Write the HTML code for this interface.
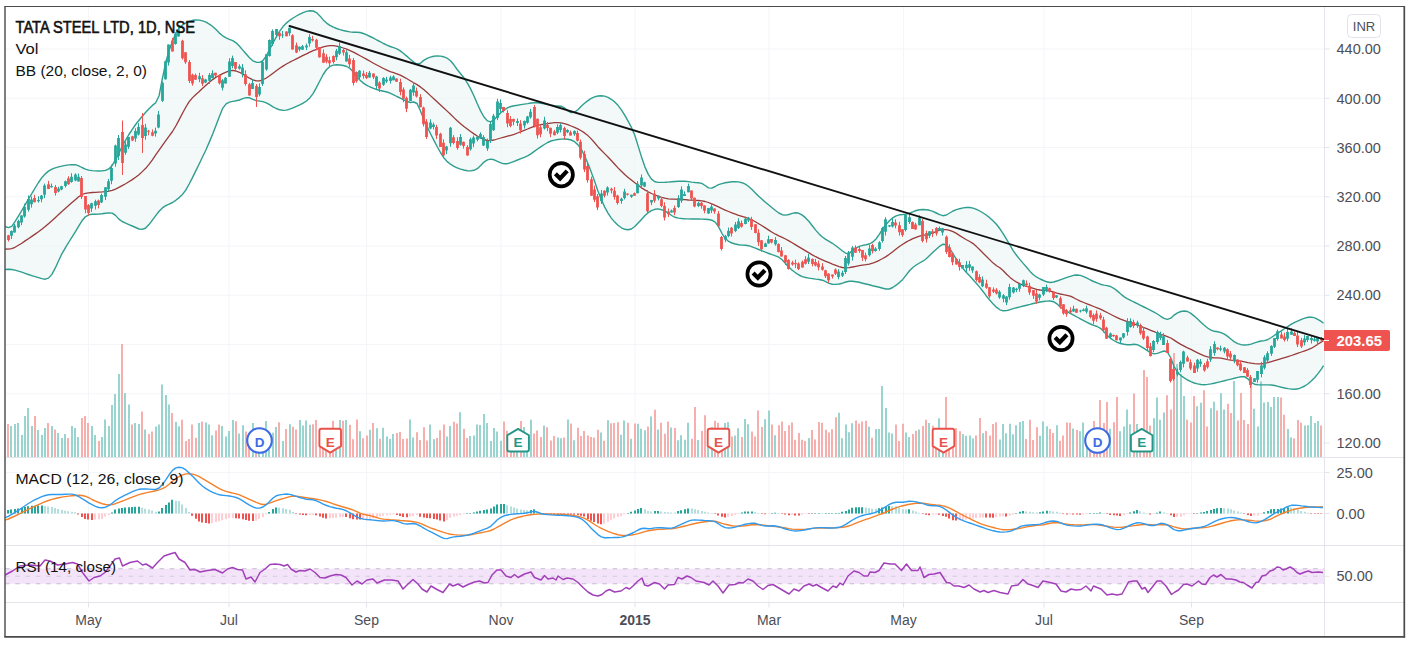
<!DOCTYPE html>
<html lang="en"><head><meta charset="utf-8"><title>TATA STEEL LTD chart</title>
<style>html,body{margin:0;padding:0;background:#fff}body{width:1408px;height:646px;overflow:hidden}svg{display:block}</style></head>
<body>
<svg width="1408" height="646" viewBox="0 0 1408 646" font-family="'Liberation Sans', Arial, sans-serif">
<rect width="1408" height="646" fill="#fff"/>
<path d="M88.5,7V602 M229,7V602 M366.5,7V602 M501,7V602 M635,7V602 M769,7V602 M903.5,7V602 M1044,7V602 M1191.5,7V602 M5,49.00H1324.5 M5,98.25H1324.5 M5,147.50H1324.5 M5,196.75H1324.5 M5,246.00H1324.5 M5,295.25H1324.5 M5,344.50H1324.5 M5,393.75H1324.5 M5,443.00H1324.5 M5,472.5H1324.5 M5,513.5H1324.5" stroke="#f4f5f9" stroke-width="1" fill="none"/>
<path d="M5.0,226.5 L8.3,227.6 L11.7,226.3 L15.0,221.7 L18.4,216.1 L21.8,210.5 L25.1,204.8 L28.4,199.2 L31.8,193.6 L35.1,188.0 L38.5,182.5 L41.8,177.7 L45.2,173.9 L48.5,171.1 L51.9,169.2 L55.2,167.9 L58.6,166.9 L61.9,166.1 L65.3,165.4 L68.6,164.9 L72.0,164.6 L75.3,164.7 L78.7,165.8 L82.0,167.5 L85.4,169.1 L88.7,170.1 L92.1,170.6 L95.4,170.9 L98.8,171.0 L102.1,170.9 L105.5,170.4 L108.8,168.9 L112.2,165.4 L115.5,159.8 L118.9,153.1 L122.2,146.3 L125.6,140.1 L128.9,134.5 L132.3,129.3 L135.6,124.5 L139.0,120.2 L142.3,116.2 L145.7,112.3 L149.0,108.7 L152.4,105.4 L155.7,102.7 L159.1,95.7 L162.4,78.5 L165.8,62.3 L169.1,50.5 L172.5,41.1 L175.8,33.6 L179.2,28.3 L182.5,24.9 L185.9,22.8 L189.2,21.3 L192.6,20.3 L195.9,20.0 L199.3,20.1 L202.6,20.9 L206.0,22.2 L209.3,24.1 L212.7,26.5 L216.0,29.6 L219.4,33.1 L222.7,35.8 L226.1,37.9 L229.4,39.4 L232.8,40.7 L236.1,42.8 L239.5,46.3 L242.8,50.1 L246.2,54.0 L249.5,57.8 L252.9,60.8 L256.2,62.2 L259.6,62.4 L262.9,60.6 L266.3,55.8 L269.6,49.5 L273.0,43.0 L276.3,36.8 L279.7,31.2 L283.0,26.6 L286.4,23.1 L289.7,20.3 L293.1,18.0 L296.4,16.0 L299.8,14.2 L303.1,12.6 L306.5,11.4 L309.8,10.7 L313.2,11.0 L316.5,12.6 L319.9,15.9 L323.2,19.9 L326.6,23.1 L329.9,25.4 L333.3,27.2 L336.6,28.5 L340.0,29.6 L343.3,30.5 L346.7,31.3 L350.0,31.9 L353.4,32.2 L356.7,32.2 L360.1,32.5 L363.4,33.5 L366.8,34.9 L370.1,36.5 L373.5,38.2 L376.8,40.0 L380.2,41.7 L383.5,43.5 L386.9,45.1 L390.2,46.5 L393.6,47.7 L396.9,48.9 L400.3,50.9 L403.6,53.5 L407.0,56.4 L410.3,59.3 L413.7,62.1 L417.0,64.0 L420.4,63.3 L423.7,60.4 L427.1,58.3 L430.4,57.1 L433.8,56.3 L437.1,55.9 L440.5,56.1 L443.8,56.8 L447.2,58.2 L450.5,60.7 L453.9,64.8 L457.2,69.5 L460.6,73.7 L463.9,77.8 L467.3,82.8 L470.6,88.9 L474.0,96.0 L477.3,103.8 L480.7,111.1 L484.0,117.0 L487.4,120.9 L490.7,121.9 L494.1,119.7 L497.4,116.3 L500.8,112.8 L504.1,109.9 L507.5,107.8 L510.8,106.5 L514.2,105.7 L517.5,105.2 L520.9,104.6 L524.2,104.1 L527.6,103.6 L530.9,103.0 L534.3,102.7 L537.6,102.7 L541.0,103.2 L544.3,103.9 L547.7,104.5 L551.0,105.2 L554.4,105.8 L557.7,106.0 L561.1,106.2 L564.4,107.9 L567.8,110.8 L571.1,112.6 L574.5,112.3 L577.8,109.7 L581.2,106.3 L584.5,103.3 L587.9,100.6 L591.2,98.4 L594.6,96.9 L597.9,96.0 L601.3,95.7 L604.6,96.1 L608.0,97.3 L611.3,99.3 L614.7,101.9 L618.0,105.3 L621.4,109.8 L624.7,115.2 L628.1,121.1 L631.4,127.4 L634.8,135.3 L638.1,145.9 L641.5,156.9 L644.8,166.6 L648.2,174.1 L651.5,179.1 L654.9,181.8 L658.2,182.4 L661.6,182.4 L664.9,182.3 L668.3,182.1 L671.6,181.8 L675.0,181.5 L678.3,181.2 L681.7,181.1 L685.0,181.2 L688.4,181.6 L691.7,182.1 L695.1,182.5 L698.4,182.8 L701.8,183.4 L705.1,185.5 L708.5,187.9 L711.8,188.1 L715.2,186.5 L718.5,184.7 L721.9,183.6 L725.2,182.8 L728.6,182.2 L731.9,181.8 L735.3,181.7 L738.6,181.9 L742.0,182.7 L745.3,184.2 L748.7,186.5 L752.0,189.6 L755.4,192.9 L758.7,196.3 L762.1,199.3 L765.4,202.2 L768.8,205.0 L772.1,207.8 L775.5,210.5 L778.8,213.0 L782.2,214.7 L785.5,215.1 L788.9,214.5 L792.2,213.4 L795.6,212.7 L798.9,213.3 L802.3,215.1 L805.6,217.9 L809.0,221.5 L812.3,225.7 L815.7,230.1 L819.0,233.9 L822.4,237.0 L825.7,239.4 L829.1,241.4 L832.4,243.3 L835.8,245.7 L839.1,248.3 L842.5,251.0 L845.8,253.3 L849.2,253.4 L852.5,250.5 L855.9,248.1 L859.2,246.4 L862.6,245.4 L865.9,244.8 L869.3,244.0 L872.6,242.2 L876.0,239.0 L879.3,234.3 L882.7,229.0 L886.0,224.5 L889.4,220.7 L892.7,217.8 L896.1,215.8 L899.4,214.8 L902.8,214.5 L906.1,214.1 L909.5,213.2 L912.8,211.8 L916.2,210.5 L919.5,209.7 L922.9,209.5 L926.2,209.7 L929.6,210.3 L932.9,211.3 L936.3,213.0 L939.6,214.7 L943.0,215.7 L946.3,215.0 L949.7,213.0 L953.0,211.0 L956.4,209.7 L959.7,208.7 L963.1,207.9 L966.4,207.5 L969.8,207.5 L973.1,208.1 L976.5,209.3 L979.8,211.0 L983.2,213.0 L986.5,215.3 L989.9,217.9 L993.2,220.9 L996.6,224.5 L999.9,228.8 L1003.3,233.8 L1006.6,239.3 L1010.0,245.1 L1013.3,250.8 L1016.7,255.5 L1020.0,259.6 L1023.4,263.6 L1026.8,267.5 L1030.1,271.4 L1033.4,274.7 L1036.8,277.2 L1040.1,279.0 L1043.5,280.5 L1046.8,281.8 L1050.2,282.5 L1053.5,282.0 L1056.9,281.0 L1060.2,279.8 L1063.6,278.6 L1066.9,277.4 L1070.3,276.3 L1073.6,275.3 L1077.0,275.0 L1080.3,275.4 L1083.7,276.6 L1087.0,278.2 L1090.4,280.0 L1093.7,281.5 L1097.1,282.9 L1100.4,284.2 L1103.8,285.1 L1107.1,285.6 L1110.5,286.5 L1113.8,288.3 L1117.2,290.9 L1120.5,293.8 L1123.9,296.6 L1127.2,298.6 L1130.6,300.3 L1133.9,302.0 L1137.3,303.6 L1140.6,305.3 L1144.0,307.0 L1147.3,308.7 L1150.7,310.3 L1154.0,312.1 L1157.4,314.0 L1160.7,316.3 L1164.1,318.3 L1167.4,319.4 L1170.8,318.2 L1174.1,315.1 L1177.5,312.8 L1180.8,311.5 L1184.2,311.0 L1187.5,311.5 L1190.9,313.4 L1194.2,316.1 L1197.6,319.1 L1200.9,322.2 L1204.3,325.3 L1207.6,328.0 L1211.0,330.1 L1214.3,331.3 L1217.7,331.7 L1221.0,332.6 L1224.4,334.2 L1227.7,336.4 L1231.1,339.2 L1234.4,341.9 L1237.8,343.7 L1241.1,344.7 L1244.5,345.0 L1247.8,344.8 L1251.2,344.1 L1254.5,342.9 L1257.9,341.8 L1261.2,341.0 L1264.6,340.6 L1267.9,339.5 L1271.3,337.5 L1274.6,335.2 L1278.0,333.0 L1281.3,330.8 L1284.7,328.5 L1288.0,326.3 L1291.4,324.2 L1294.7,322.4 L1298.1,320.8 L1301.4,319.3 L1304.8,318.1 L1308.1,317.3 L1311.5,317.1 L1314.8,317.9 L1318.2,319.6 L1321.5,321.7 L1323.5,323.2 L1323.5,365.7 L1321.5,368.8 L1318.2,373.4 L1314.8,377.5 L1311.5,380.8 L1308.1,383.7 L1304.8,386.0 L1301.4,387.7 L1298.1,388.8 L1294.7,389.2 L1291.4,389.1 L1288.0,388.6 L1284.7,388.0 L1281.3,387.3 L1278.0,386.4 L1274.6,385.5 L1271.3,385.0 L1267.9,384.9 L1264.6,384.9 L1261.2,384.9 L1257.9,384.7 L1254.5,384.2 L1251.2,382.4 L1247.8,378.8 L1244.5,376.6 L1241.1,376.7 L1237.8,377.4 L1234.4,378.3 L1231.1,379.1 L1227.7,379.9 L1224.4,380.8 L1221.0,381.6 L1217.7,382.4 L1214.3,383.2 L1211.0,383.9 L1207.6,384.4 L1204.3,384.7 L1200.9,384.5 L1197.6,383.9 L1194.2,383.0 L1190.9,381.6 L1187.5,380.0 L1184.2,377.9 L1180.8,375.5 L1177.5,372.2 L1174.1,366.6 L1170.8,358.0 L1167.4,352.0 L1164.1,351.0 L1160.7,352.2 L1157.4,353.4 L1154.0,353.9 L1150.7,352.8 L1147.3,350.6 L1144.0,348.4 L1140.6,346.3 L1137.3,344.7 L1133.9,344.3 L1130.6,344.7 L1127.2,344.8 L1123.9,344.3 L1120.5,343.5 L1117.2,342.3 L1113.8,340.5 L1110.5,338.3 L1107.1,335.4 L1103.8,331.6 L1100.4,328.3 L1097.1,326.5 L1093.7,325.4 L1090.4,324.0 L1087.0,322.3 L1083.7,320.6 L1080.3,318.8 L1077.0,317.0 L1073.6,315.1 L1070.3,313.3 L1066.9,311.4 L1063.6,309.5 L1060.2,306.9 L1056.9,303.8 L1053.5,301.7 L1050.2,301.0 L1046.8,301.1 L1043.5,301.5 L1040.1,302.0 L1036.8,302.7 L1033.4,303.5 L1030.1,304.4 L1026.8,305.2 L1023.4,306.0 L1020.0,306.9 L1016.7,307.7 L1013.3,308.7 L1010.0,309.7 L1006.6,310.6 L1003.3,310.8 L999.9,309.8 L996.6,307.4 L993.2,304.1 L989.9,300.3 L986.5,296.2 L983.2,291.7 L979.8,287.4 L976.5,283.5 L973.1,279.7 L969.8,276.1 L966.4,272.5 L963.1,268.6 L959.7,264.1 L956.4,259.3 L953.0,253.9 L949.7,248.7 L946.3,244.7 L943.0,244.2 L939.6,246.3 L936.3,249.2 L932.9,252.2 L929.6,255.4 L926.2,258.7 L922.9,261.2 L919.5,263.0 L916.2,265.0 L912.8,267.5 L909.5,270.8 L906.1,275.1 L902.8,279.4 L899.4,282.6 L896.1,285.2 L892.7,287.5 L889.4,289.0 L886.0,289.0 L882.7,288.2 L879.3,287.3 L876.0,286.5 L872.6,285.7 L869.3,284.8 L865.9,284.0 L862.6,283.2 L859.2,282.3 L855.9,281.7 L852.5,281.2 L849.2,281.2 L845.8,282.0 L842.5,283.2 L839.1,284.0 L835.8,284.4 L832.4,284.3 L829.1,283.4 L825.7,281.7 L822.4,280.2 L819.0,279.5 L815.7,279.1 L812.3,278.6 L809.0,278.1 L805.6,277.5 L802.3,276.6 L798.9,275.0 L795.6,272.8 L792.2,270.3 L788.9,267.2 L785.5,263.6 L782.2,259.8 L778.8,257.2 L775.5,255.8 L772.1,254.7 L768.8,253.5 L765.4,252.2 L762.1,250.8 L758.7,249.5 L755.4,248.2 L752.0,246.8 L748.7,245.7 L745.3,245.3 L742.0,245.1 L738.6,244.7 L735.3,244.0 L731.9,243.0 L728.6,241.4 L725.2,238.3 L721.9,233.3 L718.5,226.6 L715.2,222.2 L711.8,220.2 L708.5,219.5 L705.1,219.2 L701.8,219.1 L698.4,219.0 L695.1,219.0 L691.7,219.0 L688.4,218.9 L685.0,218.8 L681.7,218.5 L678.3,218.1 L675.0,217.3 L671.6,215.5 L668.3,213.1 L664.9,211.2 L661.6,209.7 L658.2,208.9 L654.9,209.3 L651.5,210.6 L648.2,212.7 L644.8,215.8 L641.5,219.4 L638.1,223.0 L634.8,226.5 L631.4,229.0 L628.1,229.8 L624.7,229.3 L621.4,227.8 L618.0,225.3 L614.7,222.1 L611.3,218.1 L608.0,213.1 L604.6,206.9 L601.3,199.5 L597.9,190.9 L594.6,181.3 L591.2,172.0 L587.9,163.5 L584.5,155.7 L581.2,149.1 L577.8,144.6 L574.5,141.7 L571.1,140.0 L567.8,139.3 L564.4,139.0 L561.1,139.1 L557.7,139.5 L554.4,140.1 L551.0,141.0 L547.7,142.5 L544.3,144.5 L541.0,146.7 L537.6,149.0 L534.3,151.4 L530.9,153.9 L527.6,155.8 L524.2,157.3 L520.9,158.6 L517.5,160.0 L514.2,161.3 L510.8,162.7 L507.5,163.7 L504.1,163.8 L500.8,162.8 L497.4,161.3 L494.1,159.8 L490.7,159.1 L487.4,159.9 L484.0,162.1 L480.7,165.6 L477.3,168.7 L474.0,170.3 L470.6,170.9 L467.3,170.7 L463.9,170.0 L460.6,169.1 L457.2,167.9 L453.9,166.3 L450.5,164.2 L447.2,161.6 L443.8,157.7 L440.5,152.5 L437.1,146.5 L433.8,140.1 L430.4,133.5 L427.1,126.5 L423.7,119.0 L420.4,110.7 L417.0,103.5 L413.7,102.0 L410.3,102.5 L407.0,101.5 L403.6,99.8 L400.3,98.1 L396.9,96.5 L393.6,94.8 L390.2,93.2 L386.9,92.0 L383.5,91.2 L380.2,90.5 L376.8,89.5 L373.5,88.3 L370.1,87.0 L366.8,85.3 L363.4,83.1 L360.1,80.3 L356.7,76.5 L353.4,72.0 L350.0,68.4 L346.7,66.5 L343.3,65.5 L340.0,65.0 L336.6,64.8 L333.3,65.1 L329.9,66.4 L326.6,69.5 L323.2,74.5 L319.9,80.7 L316.5,87.4 L313.2,93.3 L309.8,97.9 L306.5,101.0 L303.1,103.1 L299.8,104.8 L296.4,106.4 L293.1,107.8 L289.7,109.1 L286.4,110.1 L283.0,110.4 L279.7,109.8 L276.3,108.5 L273.0,106.8 L269.6,104.7 L266.3,102.8 L262.9,101.6 L259.6,101.1 L256.2,100.6 L252.9,99.4 L249.5,97.8 L246.2,97.6 L242.8,98.7 L239.5,100.0 L236.1,100.8 L232.8,101.4 L229.4,102.1 L226.1,103.8 L222.7,108.3 L219.4,116.4 L216.0,125.5 L212.7,134.1 L209.3,142.1 L206.0,149.7 L202.6,156.8 L199.3,163.7 L195.9,170.6 L192.6,177.4 L189.2,184.0 L185.9,189.9 L182.5,194.4 L179.2,197.6 L175.8,200.3 L172.5,202.5 L169.1,204.2 L165.8,205.7 L162.4,207.9 L159.1,211.3 L155.7,215.6 L152.4,220.1 L149.0,224.6 L145.7,228.0 L142.3,229.4 L139.0,229.0 L135.6,227.5 L132.3,226.0 L128.9,224.6 L125.6,223.2 L122.2,221.5 L118.9,219.1 L115.5,215.4 L112.2,213.1 L108.8,212.9 L105.5,213.3 L102.1,213.7 L98.8,214.0 L95.4,214.2 L92.1,214.3 L88.7,214.9 L85.4,216.8 L82.0,220.8 L78.7,226.2 L75.3,231.8 L72.0,237.2 L68.6,242.5 L65.3,247.9 L61.9,253.8 L58.6,260.8 L55.2,268.2 L51.9,274.4 L48.5,278.1 L45.2,279.2 L41.8,278.6 L38.5,277.6 L35.1,276.6 L31.8,275.6 L28.4,274.5 L25.1,273.3 L21.8,272.2 L18.4,271.1 L15.0,270.1 L11.7,269.5 L8.3,269.3 L5.0,269.5Z" fill="#eaf5f4" fill-opacity="0.6" stroke="none"/>
<path d="M10,457v-31.0h2v31.0zM14,457v-33.0h2v33.0zM17,457v-34.0h2v34.0zM21,457v-22.0h2v22.0zM24,457v-41.0h2v41.0zM27,457v-49.0h2v49.0zM31,457v-31.0h2v31.0zM37,457v-27.0h2v27.0zM41,457v-22.0h2v22.0zM44,457v-29.0h2v29.0zM51,457v-31.0h2v31.0zM57,457v-24.0h2v24.0zM61,457v-19.0h2v19.0zM64,457v-23.0h2v23.0zM71,457v-31.0h2v31.0zM74,457v-29.0h2v29.0zM77,457v-20.0h2v20.0zM91,457v-31.0h2v31.0zM94,457v-22.0h2v22.0zM101,457v-20.0h2v20.0zM104,457v-37.5h2v37.5zM108,457v-31.0h2v31.0zM111,457v-52.0h2v52.0zM114,457v-63.0h2v63.0zM118,457v-83.0h2v83.0zM124,457v-64.0h2v64.0zM128,457v-52.5h2v52.5zM134,457v-34.0h2v34.0zM138,457v-33.0h2v33.0zM144,457v-27.5h2v27.5zM155,457v-30.6h2v30.6zM158,457v-32.5h2v32.5zM161,457v-72.5h2v72.5zM165,457v-62.0h2v62.0zM168,457v-52.5h2v52.5zM175,457v-35.0h2v35.0zM178,457v-30.8h2v30.8zM198,457v-33.9h2v33.9zM205,457v-34.4h2v34.4zM208,457v-32.5h2v32.5zM211,457v-21.8h2v21.8zM221,457v-30.9h2v30.9zM225,457v-20.4h2v20.4zM228,457v-25.9h2v25.9zM232,457v-37.0h2v37.0zM238,457v-23.6h2v23.6zM242,457v-31.7h2v31.7zM252,457v-33.9h2v33.9zM258,457v-23.6h2v23.6zM262,457v-24.7h2v24.7zM265,457v-35.9h2v35.9zM268,457v-21.3h2v21.3zM272,457v-24.3h2v24.3zM275,457v-29.9h2v29.9zM282,457v-16.0h2v16.0zM289,457v-32.8h2v32.8zM299,457v-37.1h2v37.1zM302,457v-31.5h2v31.5zM305,457v-36.4h2v36.4zM309,457v-32.3h2v32.3zM335,457v-22.5h2v22.5zM339,457v-37.1h2v37.1zM345,457v-37.0h2v37.0zM359,457v-25.8h2v25.8zM369,457v-27.2h2v27.2zM376,457v-28.8h2v28.8zM382,457v-29.2h2v29.2zM386,457v-20.5h2v20.5zM389,457v-18.0h2v18.0zM392,457v-22.9h2v22.9zM409,457v-37.5h2v37.5zM412,457v-19.5h2v19.5zM429,457v-32.6h2v32.6zM433,457v-17.8h2v17.8zM446,457v-20.6h2v20.6zM449,457v-31.0h2v31.0zM459,457v-44.7h2v44.7zM469,457v-20.9h2v20.9zM473,457v-21.4h2v21.4zM476,457v-32.6h2v32.6zM479,457v-32.1h2v32.1zM483,457v-43.1h2v43.1zM486,457v-33.9h2v33.9zM490,457v-16.1h2v16.1zM493,457v-29.1h2v29.1zM496,457v-25.6h2v25.6zM500,457v-16.3h2v16.3zM516,457v-17.4h2v17.4zM523,457v-30.0h2v30.0zM526,457v-23.0h2v23.0zM530,457v-37.2h2v37.2zM543,457v-31.4h2v31.4zM557,457v-19.4h2v19.4zM560,457v-18.8h2v18.8zM567,457v-37.5h2v37.5zM573,457v-16.7h2v16.7zM600,457v-24.6h2v24.6zM607,457v-36.7h2v36.7zM620,457v-22.2h2v22.2zM623,457v-36.4h2v36.4zM630,457v-18.2h2v18.2zM637,457v-33.3h2v33.3zM640,457v-28.2h2v28.2zM644,457v-26.8h2v26.8zM650,457v-40.5h2v40.5zM657,457v-27.6h2v27.6zM670,457v-29.4h2v29.4zM677,457v-16.8h2v16.8zM680,457v-21.7h2v21.7zM684,457v-17.2h2v17.2zM687,457v-34.3h2v34.3zM697,457v-17.1h2v17.1zM707,457v-24.1h2v24.1zM711,457v-29.9h2v29.9zM724,457v-34.0h2v34.0zM727,457v-34.7h2v34.7zM734,457v-21.6h2v21.6zM737,457v-28.8h2v28.8zM744,457v-37.9h2v37.9zM747,457v-32.7h2v32.7zM764,457v-37.8h2v37.8zM768,457v-46.5h2v46.5zM774,457v-21.7h2v21.7zM808,457v-19.0h2v19.0zM838,457v-44.3h2v44.3zM841,457v-18.7h2v18.7zM845,457v-32.4h2v32.4zM848,457v-24.7h2v24.7zM851,457v-33.7h2v33.7zM868,457v-30.2h2v30.2zM875,457v-28.0h2v28.0zM878,457v-28.1h2v28.1zM881,457v-71.0h2v71.0zM885,457v-49.0h2v49.0zM888,457v-24.5h2v24.5zM891,457v-23.4h2v23.4zM905,457v-24.6h2v24.6zM908,457v-20.1h2v20.1zM918,457v-27.4h2v27.4zM928,457v-33.9h2v33.9zM938,457v-38.7h2v38.7zM942,457v-28.9h2v28.9zM962,457v-22.9h2v22.9zM965,457v-21.3h2v21.3zM969,457v-21.4h2v21.4zM972,457v-18.5h2v18.5zM982,457v-23.8h2v23.8zM999,457v-17.5h2v17.5zM1002,457v-33.0h2v33.0zM1005,457v-23.7h2v23.7zM1009,457v-33.2h2v33.2zM1012,457v-22.7h2v22.7zM1015,457v-31.8h2v31.8zM1019,457v-35.0h2v35.0zM1022,457v-36.1h2v36.1zM1039,457v-21.2h2v21.2zM1042,457v-35.5h2v35.5zM1046,457v-30.7h2v30.7zM1056,457v-31.8h2v31.8zM1072,457v-28.5h2v28.5zM1079,457v-25.8h2v25.8zM1082,457v-34.5h2v34.5zM1086,457v-23.5h2v23.5zM1109,457v-28.3h2v28.3zM1119,457v-25.7h2v25.7zM1123,457v-30.5h2v30.5zM1126,457v-47.5h2v47.5zM1129,457v-32.7h2v32.7zM1136,457v-33.1h2v33.1zM1153,457v-38.7h2v38.7zM1156,457v-59.4h2v59.4zM1159,457v-37.3h2v37.3zM1163,457v-44.6h2v44.6zM1176,457v-93.0h2v93.0zM1180,457v-83.0h2v83.0zM1183,457v-61.0h2v61.0zM1196,457v-50.8h2v50.8zM1200,457v-54.3h2v54.3zM1210,457v-48.8h2v48.8zM1213,457v-55.3h2v55.3zM1220,457v-63.7h2v63.7zM1223,457v-47.6h2v47.6zM1233,457v-76.1h2v76.1zM1253,457v-48.2h2v48.2zM1257,457v-30.6h2v30.6zM1260,457v-75.4h2v75.4zM1263,457v-54.4h2v54.4zM1267,457v-55.0h2v55.0zM1270,457v-50.0h2v50.0zM1273,457v-60.0h2v60.0zM1277,457v-60.0h2v60.0zM1287,457v-27.9h2v27.9zM1290,457v-19.6h2v19.6zM1304,457v-31.5h2v31.5zM1307,457v-31.7h2v31.7zM1310,457v-40.9h2v40.9zM1314,457v-34.1h2v34.1zM1317,457v-35.9h2v35.9z" fill="#99d4ce"/>
<path d="M7,457v-33.0h2v33.0zM34,457v-41.0h2v41.0zM47,457v-34.0h2v34.0zM54,457v-27.5h2v27.5zM67,457v-19.0h2v19.0zM81,457v-39.0h2v39.0zM84,457v-41.0h2v41.0zM87,457v-34.0h2v34.0zM98,457v-16.0h2v16.0zM121,457v-113.0h2v113.0zM131,457v-32.5h2v32.5zM141,457v-45.6h2v45.6zM148,457v-23.0h2v23.0zM151,457v-25.6h2v25.6zM171,457v-44.0h2v44.0zM181,457v-37.2h2v37.2zM185,457v-16.0h2v16.0zM188,457v-18.0h2v18.0zM191,457v-32.5h2v32.5zM195,457v-19.3h2v19.3zM201,457v-35.6h2v35.6zM215,457v-26.5h2v26.5zM218,457v-32.4h2v32.4zM235,457v-35.7h2v35.7zM245,457v-25.4h2v25.4zM248,457v-21.5h2v21.5zM255,457v-25.9h2v25.9zM278,457v-34.7h2v34.7zM285,457v-27.9h2v27.9zM292,457v-30.2h2v30.2zM295,457v-27.5h2v27.5zM312,457v-32.7h2v32.7zM315,457v-36.9h2v36.9zM319,457v-17.3h2v17.3zM322,457v-23.2h2v23.2zM325,457v-23.3h2v23.3zM329,457v-20.6h2v20.6zM332,457v-36.2h2v36.2zM342,457v-36.2h2v36.2zM349,457v-32.2h2v32.2zM352,457v-17.7h2v17.7zM356,457v-37.6h2v37.6zM362,457v-18.7h2v18.7zM366,457v-21.4h2v21.4zM372,457v-34.0h2v34.0zM379,457v-18.3h2v18.3zM396,457v-24.0h2v24.0zM399,457v-24.9h2v24.9zM402,457v-18.0h2v18.0zM406,457v-18.4h2v18.4zM416,457v-24.8h2v24.8zM419,457v-16.9h2v16.9zM423,457v-29.8h2v29.8zM426,457v-16.5h2v16.5zM436,457v-19.0h2v19.0zM439,457v-26.8h2v26.8zM443,457v-32.6h2v32.6zM453,457v-35.2h2v35.2zM456,457v-33.5h2v33.5zM463,457v-28.2h2v28.2zM466,457v-18.9h2v18.9zM503,457v-35.4h2v35.4zM506,457v-26.3h2v26.3zM510,457v-20.7h2v20.7zM513,457v-23.6h2v23.6zM520,457v-36.1h2v36.1zM533,457v-23.6h2v23.6zM536,457v-26.6h2v26.6zM540,457v-20.1h2v20.1zM546,457v-29.8h2v29.8zM550,457v-16.6h2v16.6zM553,457v-21.1h2v21.1zM563,457v-19.4h2v19.4zM570,457v-33.5h2v33.5zM577,457v-29.3h2v29.3zM580,457v-21.0h2v21.0zM583,457v-26.0h2v26.0zM587,457v-21.5h2v21.5zM590,457v-20.0h2v20.0zM593,457v-19.5h2v19.5zM597,457v-27.3h2v27.3zM603,457v-16.3h2v16.3zM610,457v-33.8h2v33.8zM613,457v-34.0h2v34.0zM617,457v-34.7h2v34.7zM627,457v-34.3h2v34.3zM634,457v-33.4h2v33.4zM647,457v-30.6h2v30.6zM654,457v-47.2h2v47.2zM660,457v-34.2h2v34.2zM664,457v-23.3h2v23.3zM667,457v-35.5h2v35.5zM674,457v-29.1h2v29.1zM691,457v-18.2h2v18.2zM694,457v-50.1h2v50.1zM701,457v-26.1h2v26.1zM704,457v-41.8h2v41.8zM714,457v-36.2h2v36.2zM717,457v-34.3h2v34.3zM721,457v-29.2h2v29.2zM731,457v-20.4h2v20.4zM741,457v-20.0h2v20.0zM751,457v-25.4h2v25.4zM754,457v-20.4h2v20.4zM757,457v-46.4h2v46.4zM761,457v-30.1h2v30.1zM771,457v-32.6h2v32.6zM778,457v-31.8h2v31.8zM781,457v-35.6h2v35.6zM784,457v-26.0h2v26.0zM788,457v-31.7h2v31.7zM791,457v-34.5h2v34.5zM794,457v-17.3h2v17.3zM798,457v-24.0h2v24.0zM801,457v-17.3h2v17.3zM804,457v-16.0h2v16.0zM811,457v-26.9h2v26.9zM814,457v-17.4h2v17.4zM818,457v-35.0h2v35.0zM821,457v-34.3h2v34.3zM825,457v-27.3h2v27.3zM828,457v-24.4h2v24.4zM831,457v-27.7h2v27.7zM835,457v-39.8h2v39.8zM855,457v-36.6h2v36.6zM858,457v-33.4h2v33.4zM861,457v-35.5h2v35.5zM865,457v-36.3h2v36.3zM871,457v-19.3h2v19.3zM895,457v-32.4h2v32.4zM898,457v-16.1h2v16.1zM902,457v-33.2h2v33.2zM912,457v-23.1h2v23.1zM915,457v-26.3h2v26.3zM922,457v-30.9h2v30.9zM925,457v-37.2h2v37.2zM932,457v-31.2h2v31.2zM935,457v-27.1h2v27.1zM945,457v-60.0h2v60.0zM948,457v-19.8h2v19.8zM952,457v-23.1h2v23.1zM955,457v-28.8h2v28.8zM959,457v-25.7h2v25.7zM975,457v-21.4h2v21.4zM979,457v-39.0h2v39.0zM985,457v-26.0h2v26.0zM989,457v-21.4h2v21.4zM992,457v-33.0h2v33.0zM995,457v-34.7h2v34.7zM1025,457v-18.0h2v18.0zM1029,457v-37.2h2v37.2zM1032,457v-17.0h2v17.0zM1036,457v-29.7h2v29.7zM1049,457v-28.1h2v28.1zM1052,457v-24.0h2v24.0zM1059,457v-16.2h2v16.2zM1062,457v-21.4h2v21.4zM1066,457v-34.6h2v34.6zM1069,457v-34.2h2v34.2zM1076,457v-26.9h2v26.9zM1089,457v-25.7h2v25.7zM1093,457v-36.0h2v36.0zM1096,457v-29.4h2v29.4zM1099,457v-56.9h2v56.9zM1103,457v-34.0h2v34.0zM1106,457v-55.1h2v55.1zM1113,457v-34.7h2v34.7zM1116,457v-59.9h2v59.9zM1133,457v-63.4h2v63.4zM1139,457v-25.9h2v25.9zM1143,457v-87.0h2v87.0zM1146,457v-80.0h2v80.0zM1149,457v-31.4h2v31.4zM1166,457v-61.8h2v61.8zM1170,457v-47.4h2v47.4zM1173,457v-104.0h2v104.0zM1186,457v-37.2h2v37.2zM1190,457v-34.4h2v34.4zM1193,457v-61.0h2v61.0zM1203,457v-66.7h2v66.7zM1206,457v-30.5h2v30.5zM1216,457v-46.4h2v46.4zM1227,457v-53.3h2v53.3zM1230,457v-44.1h2v44.1zM1237,457v-36.4h2v36.4zM1240,457v-63.9h2v63.9zM1243,457v-36.9h2v36.9zM1247,457v-33.0h2v33.0zM1250,457v-72.0h2v72.0zM1280,457v-59.4h2v59.4zM1283,457v-42.2h2v42.2zM1293,457v-18.4h2v18.4zM1297,457v-37.1h2v37.1zM1300,457v-34.2h2v34.2zM1320,457v-31.5h2v31.5z" fill="#f7afad"/>
<path d="M5.0,226.5 L8.3,227.6 L11.7,226.3 L15.0,221.7 L18.4,216.1 L21.8,210.5 L25.1,204.8 L28.4,199.2 L31.8,193.6 L35.1,188.0 L38.5,182.5 L41.8,177.7 L45.2,173.9 L48.5,171.1 L51.9,169.2 L55.2,167.9 L58.6,166.9 L61.9,166.1 L65.3,165.4 L68.6,164.9 L72.0,164.6 L75.3,164.7 L78.7,165.8 L82.0,167.5 L85.4,169.1 L88.7,170.1 L92.1,170.6 L95.4,170.9 L98.8,171.0 L102.1,170.9 L105.5,170.4 L108.8,168.9 L112.2,165.4 L115.5,159.8 L118.9,153.1 L122.2,146.3 L125.6,140.1 L128.9,134.5 L132.3,129.3 L135.6,124.5 L139.0,120.2 L142.3,116.2 L145.7,112.3 L149.0,108.7 L152.4,105.4 L155.7,102.7 L159.1,95.7 L162.4,78.5 L165.8,62.3 L169.1,50.5 L172.5,41.1 L175.8,33.6 L179.2,28.3 L182.5,24.9 L185.9,22.8 L189.2,21.3 L192.6,20.3 L195.9,20.0 L199.3,20.1 L202.6,20.9 L206.0,22.2 L209.3,24.1 L212.7,26.5 L216.0,29.6 L219.4,33.1 L222.7,35.8 L226.1,37.9 L229.4,39.4 L232.8,40.7 L236.1,42.8 L239.5,46.3 L242.8,50.1 L246.2,54.0 L249.5,57.8 L252.9,60.8 L256.2,62.2 L259.6,62.4 L262.9,60.6 L266.3,55.8 L269.6,49.5 L273.0,43.0 L276.3,36.8 L279.7,31.2 L283.0,26.6 L286.4,23.1 L289.7,20.3 L293.1,18.0 L296.4,16.0 L299.8,14.2 L303.1,12.6 L306.5,11.4 L309.8,10.7 L313.2,11.0 L316.5,12.6 L319.9,15.9 L323.2,19.9 L326.6,23.1 L329.9,25.4 L333.3,27.2 L336.6,28.5 L340.0,29.6 L343.3,30.5 L346.7,31.3 L350.0,31.9 L353.4,32.2 L356.7,32.2 L360.1,32.5 L363.4,33.5 L366.8,34.9 L370.1,36.5 L373.5,38.2 L376.8,40.0 L380.2,41.7 L383.5,43.5 L386.9,45.1 L390.2,46.5 L393.6,47.7 L396.9,48.9 L400.3,50.9 L403.6,53.5 L407.0,56.4 L410.3,59.3 L413.7,62.1 L417.0,64.0 L420.4,63.3 L423.7,60.4 L427.1,58.3 L430.4,57.1 L433.8,56.3 L437.1,55.9 L440.5,56.1 L443.8,56.8 L447.2,58.2 L450.5,60.7 L453.9,64.8 L457.2,69.5 L460.6,73.7 L463.9,77.8 L467.3,82.8 L470.6,88.9 L474.0,96.0 L477.3,103.8 L480.7,111.1 L484.0,117.0 L487.4,120.9 L490.7,121.9 L494.1,119.7 L497.4,116.3 L500.8,112.8 L504.1,109.9 L507.5,107.8 L510.8,106.5 L514.2,105.7 L517.5,105.2 L520.9,104.6 L524.2,104.1 L527.6,103.6 L530.9,103.0 L534.3,102.7 L537.6,102.7 L541.0,103.2 L544.3,103.9 L547.7,104.5 L551.0,105.2 L554.4,105.8 L557.7,106.0 L561.1,106.2 L564.4,107.9 L567.8,110.8 L571.1,112.6 L574.5,112.3 L577.8,109.7 L581.2,106.3 L584.5,103.3 L587.9,100.6 L591.2,98.4 L594.6,96.9 L597.9,96.0 L601.3,95.7 L604.6,96.1 L608.0,97.3 L611.3,99.3 L614.7,101.9 L618.0,105.3 L621.4,109.8 L624.7,115.2 L628.1,121.1 L631.4,127.4 L634.8,135.3 L638.1,145.9 L641.5,156.9 L644.8,166.6 L648.2,174.1 L651.5,179.1 L654.9,181.8 L658.2,182.4 L661.6,182.4 L664.9,182.3 L668.3,182.1 L671.6,181.8 L675.0,181.5 L678.3,181.2 L681.7,181.1 L685.0,181.2 L688.4,181.6 L691.7,182.1 L695.1,182.5 L698.4,182.8 L701.8,183.4 L705.1,185.5 L708.5,187.9 L711.8,188.1 L715.2,186.5 L718.5,184.7 L721.9,183.6 L725.2,182.8 L728.6,182.2 L731.9,181.8 L735.3,181.7 L738.6,181.9 L742.0,182.7 L745.3,184.2 L748.7,186.5 L752.0,189.6 L755.4,192.9 L758.7,196.3 L762.1,199.3 L765.4,202.2 L768.8,205.0 L772.1,207.8 L775.5,210.5 L778.8,213.0 L782.2,214.7 L785.5,215.1 L788.9,214.5 L792.2,213.4 L795.6,212.7 L798.9,213.3 L802.3,215.1 L805.6,217.9 L809.0,221.5 L812.3,225.7 L815.7,230.1 L819.0,233.9 L822.4,237.0 L825.7,239.4 L829.1,241.4 L832.4,243.3 L835.8,245.7 L839.1,248.3 L842.5,251.0 L845.8,253.3 L849.2,253.4 L852.5,250.5 L855.9,248.1 L859.2,246.4 L862.6,245.4 L865.9,244.8 L869.3,244.0 L872.6,242.2 L876.0,239.0 L879.3,234.3 L882.7,229.0 L886.0,224.5 L889.4,220.7 L892.7,217.8 L896.1,215.8 L899.4,214.8 L902.8,214.5 L906.1,214.1 L909.5,213.2 L912.8,211.8 L916.2,210.5 L919.5,209.7 L922.9,209.5 L926.2,209.7 L929.6,210.3 L932.9,211.3 L936.3,213.0 L939.6,214.7 L943.0,215.7 L946.3,215.0 L949.7,213.0 L953.0,211.0 L956.4,209.7 L959.7,208.7 L963.1,207.9 L966.4,207.5 L969.8,207.5 L973.1,208.1 L976.5,209.3 L979.8,211.0 L983.2,213.0 L986.5,215.3 L989.9,217.9 L993.2,220.9 L996.6,224.5 L999.9,228.8 L1003.3,233.8 L1006.6,239.3 L1010.0,245.1 L1013.3,250.8 L1016.7,255.5 L1020.0,259.6 L1023.4,263.6 L1026.8,267.5 L1030.1,271.4 L1033.4,274.7 L1036.8,277.2 L1040.1,279.0 L1043.5,280.5 L1046.8,281.8 L1050.2,282.5 L1053.5,282.0 L1056.9,281.0 L1060.2,279.8 L1063.6,278.6 L1066.9,277.4 L1070.3,276.3 L1073.6,275.3 L1077.0,275.0 L1080.3,275.4 L1083.7,276.6 L1087.0,278.2 L1090.4,280.0 L1093.7,281.5 L1097.1,282.9 L1100.4,284.2 L1103.8,285.1 L1107.1,285.6 L1110.5,286.5 L1113.8,288.3 L1117.2,290.9 L1120.5,293.8 L1123.9,296.6 L1127.2,298.6 L1130.6,300.3 L1133.9,302.0 L1137.3,303.6 L1140.6,305.3 L1144.0,307.0 L1147.3,308.7 L1150.7,310.3 L1154.0,312.1 L1157.4,314.0 L1160.7,316.3 L1164.1,318.3 L1167.4,319.4 L1170.8,318.2 L1174.1,315.1 L1177.5,312.8 L1180.8,311.5 L1184.2,311.0 L1187.5,311.5 L1190.9,313.4 L1194.2,316.1 L1197.6,319.1 L1200.9,322.2 L1204.3,325.3 L1207.6,328.0 L1211.0,330.1 L1214.3,331.3 L1217.7,331.7 L1221.0,332.6 L1224.4,334.2 L1227.7,336.4 L1231.1,339.2 L1234.4,341.9 L1237.8,343.7 L1241.1,344.7 L1244.5,345.0 L1247.8,344.8 L1251.2,344.1 L1254.5,342.9 L1257.9,341.8 L1261.2,341.0 L1264.6,340.6 L1267.9,339.5 L1271.3,337.5 L1274.6,335.2 L1278.0,333.0 L1281.3,330.8 L1284.7,328.5 L1288.0,326.3 L1291.4,324.2 L1294.7,322.4 L1298.1,320.8 L1301.4,319.3 L1304.8,318.1 L1308.1,317.3 L1311.5,317.1 L1314.8,317.9 L1318.2,319.6 L1321.5,321.7 L1323.5,323.2" fill="none" stroke="#2f9e8f" stroke-width="1.4" stroke-linejoin="round"/>
<path d="M5.0,269.5 L8.3,269.3 L11.7,269.5 L15.0,270.1 L18.4,271.1 L21.8,272.2 L25.1,273.3 L28.4,274.5 L31.8,275.6 L35.1,276.6 L38.5,277.6 L41.8,278.6 L45.2,279.2 L48.5,278.1 L51.9,274.4 L55.2,268.2 L58.6,260.8 L61.9,253.8 L65.3,247.9 L68.6,242.5 L72.0,237.2 L75.3,231.8 L78.7,226.2 L82.0,220.8 L85.4,216.8 L88.7,214.9 L92.1,214.3 L95.4,214.2 L98.8,214.0 L102.1,213.7 L105.5,213.3 L108.8,212.9 L112.2,213.1 L115.5,215.4 L118.9,219.1 L122.2,221.5 L125.6,223.2 L128.9,224.6 L132.3,226.0 L135.6,227.5 L139.0,229.0 L142.3,229.4 L145.7,228.0 L149.0,224.6 L152.4,220.1 L155.7,215.6 L159.1,211.3 L162.4,207.9 L165.8,205.7 L169.1,204.2 L172.5,202.5 L175.8,200.3 L179.2,197.6 L182.5,194.4 L185.9,189.9 L189.2,184.0 L192.6,177.4 L195.9,170.6 L199.3,163.7 L202.6,156.8 L206.0,149.7 L209.3,142.1 L212.7,134.1 L216.0,125.5 L219.4,116.4 L222.7,108.3 L226.1,103.8 L229.4,102.1 L232.8,101.4 L236.1,100.8 L239.5,100.0 L242.8,98.7 L246.2,97.6 L249.5,97.8 L252.9,99.4 L256.2,100.6 L259.6,101.1 L262.9,101.6 L266.3,102.8 L269.6,104.7 L273.0,106.8 L276.3,108.5 L279.7,109.8 L283.0,110.4 L286.4,110.1 L289.7,109.1 L293.1,107.8 L296.4,106.4 L299.8,104.8 L303.1,103.1 L306.5,101.0 L309.8,97.9 L313.2,93.3 L316.5,87.4 L319.9,80.7 L323.2,74.5 L326.6,69.5 L329.9,66.4 L333.3,65.1 L336.6,64.8 L340.0,65.0 L343.3,65.5 L346.7,66.5 L350.0,68.4 L353.4,72.0 L356.7,76.5 L360.1,80.3 L363.4,83.1 L366.8,85.3 L370.1,87.0 L373.5,88.3 L376.8,89.5 L380.2,90.5 L383.5,91.2 L386.9,92.0 L390.2,93.2 L393.6,94.8 L396.9,96.5 L400.3,98.1 L403.6,99.8 L407.0,101.5 L410.3,102.5 L413.7,102.0 L417.0,103.5 L420.4,110.7 L423.7,119.0 L427.1,126.5 L430.4,133.5 L433.8,140.1 L437.1,146.5 L440.5,152.5 L443.8,157.7 L447.2,161.6 L450.5,164.2 L453.9,166.3 L457.2,167.9 L460.6,169.1 L463.9,170.0 L467.3,170.7 L470.6,170.9 L474.0,170.3 L477.3,168.7 L480.7,165.6 L484.0,162.1 L487.4,159.9 L490.7,159.1 L494.1,159.8 L497.4,161.3 L500.8,162.8 L504.1,163.8 L507.5,163.7 L510.8,162.7 L514.2,161.3 L517.5,160.0 L520.9,158.6 L524.2,157.3 L527.6,155.8 L530.9,153.9 L534.3,151.4 L537.6,149.0 L541.0,146.7 L544.3,144.5 L547.7,142.5 L551.0,141.0 L554.4,140.1 L557.7,139.5 L561.1,139.1 L564.4,139.0 L567.8,139.3 L571.1,140.0 L574.5,141.7 L577.8,144.6 L581.2,149.1 L584.5,155.7 L587.9,163.5 L591.2,172.0 L594.6,181.3 L597.9,190.9 L601.3,199.5 L604.6,206.9 L608.0,213.1 L611.3,218.1 L614.7,222.1 L618.0,225.3 L621.4,227.8 L624.7,229.3 L628.1,229.8 L631.4,229.0 L634.8,226.5 L638.1,223.0 L641.5,219.4 L644.8,215.8 L648.2,212.7 L651.5,210.6 L654.9,209.3 L658.2,208.9 L661.6,209.7 L664.9,211.2 L668.3,213.1 L671.6,215.5 L675.0,217.3 L678.3,218.1 L681.7,218.5 L685.0,218.8 L688.4,218.9 L691.7,219.0 L695.1,219.0 L698.4,219.0 L701.8,219.1 L705.1,219.2 L708.5,219.5 L711.8,220.2 L715.2,222.2 L718.5,226.6 L721.9,233.3 L725.2,238.3 L728.6,241.4 L731.9,243.0 L735.3,244.0 L738.6,244.7 L742.0,245.1 L745.3,245.3 L748.7,245.7 L752.0,246.8 L755.4,248.2 L758.7,249.5 L762.1,250.8 L765.4,252.2 L768.8,253.5 L772.1,254.7 L775.5,255.8 L778.8,257.2 L782.2,259.8 L785.5,263.6 L788.9,267.2 L792.2,270.3 L795.6,272.8 L798.9,275.0 L802.3,276.6 L805.6,277.5 L809.0,278.1 L812.3,278.6 L815.7,279.1 L819.0,279.5 L822.4,280.2 L825.7,281.7 L829.1,283.4 L832.4,284.3 L835.8,284.4 L839.1,284.0 L842.5,283.2 L845.8,282.0 L849.2,281.2 L852.5,281.2 L855.9,281.7 L859.2,282.3 L862.6,283.2 L865.9,284.0 L869.3,284.8 L872.6,285.7 L876.0,286.5 L879.3,287.3 L882.7,288.2 L886.0,289.0 L889.4,289.0 L892.7,287.5 L896.1,285.2 L899.4,282.6 L902.8,279.4 L906.1,275.1 L909.5,270.8 L912.8,267.5 L916.2,265.0 L919.5,263.0 L922.9,261.2 L926.2,258.7 L929.6,255.4 L932.9,252.2 L936.3,249.2 L939.6,246.3 L943.0,244.2 L946.3,244.7 L949.7,248.7 L953.0,253.9 L956.4,259.3 L959.7,264.1 L963.1,268.6 L966.4,272.5 L969.8,276.1 L973.1,279.7 L976.5,283.5 L979.8,287.4 L983.2,291.7 L986.5,296.2 L989.9,300.3 L993.2,304.1 L996.6,307.4 L999.9,309.8 L1003.3,310.8 L1006.6,310.6 L1010.0,309.7 L1013.3,308.7 L1016.7,307.7 L1020.0,306.9 L1023.4,306.0 L1026.8,305.2 L1030.1,304.4 L1033.4,303.5 L1036.8,302.7 L1040.1,302.0 L1043.5,301.5 L1046.8,301.1 L1050.2,301.0 L1053.5,301.7 L1056.9,303.8 L1060.2,306.9 L1063.6,309.5 L1066.9,311.4 L1070.3,313.3 L1073.6,315.1 L1077.0,317.0 L1080.3,318.8 L1083.7,320.6 L1087.0,322.3 L1090.4,324.0 L1093.7,325.4 L1097.1,326.5 L1100.4,328.3 L1103.8,331.6 L1107.1,335.4 L1110.5,338.3 L1113.8,340.5 L1117.2,342.3 L1120.5,343.5 L1123.9,344.3 L1127.2,344.8 L1130.6,344.7 L1133.9,344.3 L1137.3,344.7 L1140.6,346.3 L1144.0,348.4 L1147.3,350.6 L1150.7,352.8 L1154.0,353.9 L1157.4,353.4 L1160.7,352.2 L1164.1,351.0 L1167.4,352.0 L1170.8,358.0 L1174.1,366.6 L1177.5,372.2 L1180.8,375.5 L1184.2,377.9 L1187.5,380.0 L1190.9,381.6 L1194.2,383.0 L1197.6,383.9 L1200.9,384.5 L1204.3,384.7 L1207.6,384.4 L1211.0,383.9 L1214.3,383.2 L1217.7,382.4 L1221.0,381.6 L1224.4,380.8 L1227.7,379.9 L1231.1,379.1 L1234.4,378.3 L1237.8,377.4 L1241.1,376.7 L1244.5,376.6 L1247.8,378.8 L1251.2,382.4 L1254.5,384.2 L1257.9,384.7 L1261.2,384.9 L1264.6,384.9 L1267.9,384.9 L1271.3,385.0 L1274.6,385.5 L1278.0,386.4 L1281.3,387.3 L1284.7,388.0 L1288.0,388.6 L1291.4,389.1 L1294.7,389.2 L1298.1,388.8 L1301.4,387.7 L1304.8,386.0 L1308.1,383.7 L1311.5,380.8 L1314.8,377.5 L1318.2,373.4 L1321.5,368.8 L1323.5,365.7" fill="none" stroke="#2f9e8f" stroke-width="1.4" stroke-linejoin="round"/>
<path d="M5.0,249.0 L8.3,249.1 L11.7,248.7 L15.0,247.3 L18.4,245.3 L21.8,243.2 L25.1,240.9 L28.4,238.7 L31.8,236.4 L35.1,234.1 L38.5,231.8 L41.8,229.3 L45.2,226.6 L48.5,223.7 L51.9,220.8 L55.2,217.7 L58.6,214.6 L61.9,211.5 L65.3,208.5 L68.6,205.6 L72.0,202.6 L75.3,199.7 L78.7,196.8 L82.0,194.5 L85.4,193.3 L88.7,192.8 L92.1,192.5 L95.4,192.3 L98.8,192.1 L102.1,191.9 L105.5,191.6 L108.8,191.1 L112.2,190.3 L115.5,189.1 L118.9,187.4 L122.2,185.6 L125.6,183.7 L128.9,181.7 L132.3,179.6 L135.6,177.3 L139.0,174.7 L142.3,171.6 L145.7,168.3 L149.0,164.4 L152.4,159.8 L155.7,154.9 L159.1,150.1 L162.4,145.4 L165.8,140.6 L169.1,136.1 L172.5,131.5 L175.8,126.0 L179.2,119.6 L182.5,113.2 L185.9,107.0 L189.2,101.6 L192.6,97.6 L195.9,94.5 L199.3,91.5 L202.6,88.3 L206.0,85.2 L209.3,82.3 L212.7,79.6 L216.0,77.2 L219.4,75.3 L222.7,73.7 L226.1,72.2 L229.4,70.9 L232.8,70.4 L236.1,71.0 L239.5,72.3 L242.8,74.1 L246.2,76.2 L249.5,78.2 L252.9,79.8 L256.2,80.8 L259.6,80.8 L262.9,79.8 L266.3,78.0 L269.6,75.7 L273.0,73.2 L276.3,70.7 L279.7,68.2 L283.0,66.1 L286.4,64.0 L289.7,62.2 L293.1,60.5 L296.4,58.8 L299.8,57.1 L303.1,55.4 L306.5,53.8 L309.8,52.1 L313.2,50.6 L316.5,49.3 L319.9,48.1 L323.2,46.9 L326.6,46.1 L329.9,45.6 L333.3,45.7 L336.6,46.2 L340.0,47.0 L343.3,48.0 L346.7,49.2 L350.0,50.6 L353.4,52.2 L356.7,53.9 L360.1,55.7 L363.4,57.5 L366.8,59.4 L370.1,61.3 L373.5,63.2 L376.8,65.0 L380.2,66.8 L383.5,68.5 L386.9,70.2 L390.2,71.6 L393.6,72.7 L396.9,73.8 L400.3,75.2 L403.6,76.9 L407.0,78.8 L410.3,80.7 L413.7,82.7 L417.0,84.6 L420.4,86.9 L423.7,89.6 L427.1,92.5 L430.4,95.6 L433.8,98.7 L437.1,101.8 L440.5,104.9 L443.8,107.9 L447.2,111.1 L450.5,114.3 L453.9,117.6 L457.2,120.7 L460.6,123.7 L463.9,126.4 L467.3,129.0 L470.6,131.5 L474.0,133.9 L477.3,136.0 L480.7,138.0 L484.0,139.6 L487.4,140.5 L490.7,140.7 L494.1,140.0 L497.4,139.0 L500.8,138.0 L504.1,137.1 L507.5,136.2 L510.8,135.3 L514.2,134.3 L517.5,133.0 L520.9,131.6 L524.2,130.3 L527.6,129.0 L530.9,127.6 L534.3,126.3 L537.6,125.3 L541.0,124.6 L544.3,124.1 L547.7,123.6 L551.0,123.1 L554.4,122.7 L557.7,122.6 L561.1,122.9 L564.4,123.7 L567.8,124.7 L571.1,126.0 L574.5,127.3 L577.8,128.9 L581.2,130.8 L584.5,132.9 L587.9,135.6 L591.2,138.9 L594.6,142.8 L597.9,146.7 L601.3,150.3 L604.6,153.6 L608.0,157.0 L611.3,160.5 L614.7,164.2 L618.0,167.9 L621.4,171.3 L624.7,174.5 L628.1,177.4 L631.4,180.1 L634.8,182.8 L638.1,185.3 L641.5,187.7 L644.8,189.9 L648.2,191.8 L651.5,193.5 L654.9,195.0 L658.2,196.2 L661.6,197.3 L664.9,198.2 L668.3,198.8 L671.6,199.1 L675.0,199.2 L678.3,199.3 L681.7,199.5 L685.0,199.7 L688.4,200.0 L691.7,200.2 L695.1,200.4 L698.4,200.5 L701.8,200.8 L705.1,201.5 L708.5,202.5 L711.8,203.8 L715.2,205.3 L718.5,206.9 L721.9,208.6 L725.2,210.1 L728.6,211.5 L731.9,212.8 L735.3,214.1 L738.6,215.4 L742.0,216.4 L745.3,217.4 L748.7,218.5 L752.0,220.0 L755.4,221.8 L758.7,223.7 L762.1,225.8 L765.4,227.9 L768.8,230.1 L772.1,232.2 L775.5,234.2 L778.8,235.9 L782.2,237.4 L785.5,239.0 L788.9,240.9 L792.2,242.8 L795.6,244.9 L798.9,246.9 L802.3,248.9 L805.6,250.9 L809.0,252.9 L812.3,254.9 L815.7,256.7 L819.0,258.3 L822.4,259.9 L825.7,261.3 L829.1,262.7 L832.4,264.1 L835.8,265.4 L839.1,266.6 L842.5,267.5 L845.8,267.9 L849.2,267.7 L852.5,267.0 L855.9,266.3 L859.2,265.7 L862.6,265.2 L865.9,264.7 L869.3,264.1 L872.6,263.2 L876.0,261.9 L879.3,260.3 L882.7,258.5 L886.0,256.6 L889.4,254.3 L892.7,251.8 L896.1,249.1 L899.4,246.5 L902.8,244.2 L906.1,242.1 L909.5,240.3 L912.8,238.7 L916.2,237.3 L919.5,236.2 L922.9,235.4 L926.2,234.8 L929.6,234.0 L932.9,232.9 L936.3,231.5 L939.6,230.2 L943.0,229.6 L946.3,229.7 L949.7,230.3 L953.0,231.6 L956.4,233.4 L959.7,235.6 L963.1,237.7 L966.4,239.7 L969.8,241.5 L973.1,243.6 L976.5,246.6 L979.8,249.8 L983.2,253.2 L986.5,256.5 L989.9,259.9 L993.2,263.1 L996.6,265.8 L999.9,267.8 L1003.3,270.7 L1006.6,274.2 L1010.0,277.4 L1013.3,280.0 L1016.7,282.2 L1020.0,283.9 L1023.4,285.3 L1026.8,286.5 L1030.1,287.5 L1033.4,288.4 L1036.8,289.3 L1040.1,290.0 L1043.5,290.4 L1046.8,290.6 L1050.2,291.1 L1053.5,292.0 L1056.9,293.1 L1060.2,294.0 L1063.6,294.7 L1066.9,295.3 L1070.3,296.2 L1073.6,297.7 L1077.0,299.5 L1080.3,301.1 L1083.7,302.5 L1087.0,303.8 L1090.4,305.2 L1093.7,306.5 L1097.1,307.8 L1100.4,309.2 L1103.8,310.8 L1107.1,312.5 L1110.5,314.3 L1113.8,316.0 L1117.2,317.7 L1120.5,319.2 L1123.9,320.4 L1127.2,321.6 L1130.6,322.7 L1133.9,323.9 L1137.3,325.0 L1140.6,326.3 L1144.0,327.6 L1147.3,328.9 L1150.7,330.3 L1154.0,331.6 L1157.4,333.0 L1160.7,334.3 L1164.1,335.4 L1167.4,336.6 L1170.8,338.0 L1174.1,340.1 L1177.5,342.4 L1180.8,344.4 L1184.2,346.1 L1187.5,347.8 L1190.9,349.4 L1194.2,351.1 L1197.6,352.8 L1200.9,354.4 L1204.3,355.8 L1207.6,356.9 L1211.0,357.5 L1214.3,357.8 L1217.7,357.9 L1221.0,358.2 L1224.4,358.9 L1227.7,359.6 L1231.1,360.1 L1234.4,360.4 L1237.8,360.8 L1241.1,361.2 L1244.5,361.9 L1247.8,362.6 L1251.2,363.2 L1254.5,363.7 L1257.9,363.9 L1261.2,363.8 L1264.6,363.3 L1267.9,362.6 L1271.3,361.6 L1274.6,360.6 L1278.0,359.6 L1281.3,358.6 L1284.7,357.6 L1288.0,356.6 L1291.4,355.5 L1294.7,354.4 L1298.1,353.2 L1301.4,352.0 L1304.8,350.8 L1308.1,349.6 L1311.5,348.2 L1314.8,346.3 L1318.2,344.0 L1321.5,341.9 L1323.5,340.6" fill="none" stroke="#9a3b3b" stroke-width="1.3" stroke-linejoin="round"/>
<path d="M11.5,230.4V239.0M14.5,223.9V232.6M18.5,219.7V228.3M21.5,215.1V225.2M24.5,203.6V217.7M28.5,195.4V211.6M31.5,196.5V207.6M38.5,196.3V202.6M41.5,194.9V202.3M44.5,183.6V198.1M51.5,183.6V187.6M58.5,186.7V192.3M61.5,185.8V190.3M65.5,180.5V187.5M71.5,173.2V182.8M75.5,173.3V181.3M78.5,173.5V181.6M91.5,202.7V212.0M95.5,199.7V209.5M101.5,193.5V203.1M105.5,187.3V200.1M108.5,178.9V191.1M111.5,164.6V184.2M115.5,144.6V166.7M118.5,135.0V160.0M125.5,141.8V154.8M128.5,136.9V148.9M135.5,128.3V141.8M138.5,123.2V135.5M145.5,123.9V139.7M155.5,127.6V136.6M158.5,110.9V128.3M162.5,81.7V102.1M165.5,60.9V79.6M168.5,44.6V65.6M175.5,32.3V44.7M178.5,26.3V36.6M199.5,72.8V82.2M205.5,78.8V83.1M209.5,73.0V83.9M212.5,70.3V78.4M222.5,79.1V90.4M225.5,77.1V83.5M229.5,58.2V76.7M232.5,55.6V68.3M239.5,64.3V69.6M242.5,64.1V77.4M252.5,79.3V89.1M259.5,83.4V96.4M262.5,60.0V86.0M266.5,54.3V70.7M269.5,39.4V56.6M272.5,29.4V46.1M276.5,29.0V37.2M282.5,30.9V37.9M289.5,27.7V35.9M299.5,46.5V51.3M302.5,45.0V49.8M306.5,43.6V50.1M309.5,34.2V46.7M336.5,48.9V60.3M339.5,42.5V55.0M346.5,50.2V61.6M359.5,70.1V80.0M369.5,71.0V77.6M376.5,75.8V89.7M383.5,77.2V85.9M386.5,76.8V82.9M390.5,75.8V83.6M393.5,75.2V80.3M410.5,88.9V101.0M413.5,82.1V95.7M430.5,119.3V129.4M433.5,122.5V129.4M446.5,145.8V154.1M450.5,126.9V146.7M460.5,134.1V145.7M470.5,137.7V150.7M473.5,135.5V147.2M477.5,136.6V141.4M480.5,132.3V138.4M483.5,135.2V146.0M487.5,138.6V150.9M490.5,122.0V143.0M493.5,113.9V130.9M497.5,98.8V120.2M500.5,99.4V112.4M517.5,118.4V126.0M524.5,120.5V128.6M527.5,115.9V123.8M530.5,108.9V118.7M544.5,116.8V129.5M557.5,124.3V134.2M560.5,123.2V132.4M567.5,129.2V133.2M574.5,130.3V135.9M601.5,189.9V204.0M607.5,186.3V195.5M621.5,197.7V203.7M624.5,188.8V199.5M631.5,194.7V197.9M637.5,181.1V193.3M641.5,174.5V189.0M644.5,181.8V187.2M651.5,199.9V205.1M658.5,195.7V200.4M671.5,209.5V212.5M678.5,195.2V207.9M681.5,186.3V202.9M684.5,191.3V196.0M688.5,183.6V192.3M698.5,201.8V207.1M708.5,207.9V213.9M711.5,203.4V213.1M725.5,234.9V242.2M728.5,227.5V237.2M735.5,222.0V232.1M738.5,218.2V229.0M745.5,216.6V224.3M748.5,216.9V222.1M765.5,242.7V246.9M768.5,235.7V243.6M775.5,237.1V245.7M808.5,254.0V264.0M838.5,269.1V279.3M842.5,270.6V277.0M845.5,256.0V274.0M848.5,251.0V265.5M852.5,246.1V260.5M869.5,244.8V256.6M875.5,247.2V251.7M879.5,241.2V250.9M882.5,226.8V242.7M885.5,217.2V235.5M889.5,225.2V227.1M892.5,218.3V227.5M905.5,214.0V231.5M909.5,213.9V224.0M919.5,215.3V225.3M929.5,231.3V238.0M939.5,226.5V230.6M942.5,227.9V235.6M962.5,265.0V268.5M966.5,261.1V272.0M969.5,260.9V270.8M972.5,266.4V272.9M982.5,276.4V287.2M999.5,290.2V298.9M1003.5,294.0V302.3M1006.5,296.1V305.1M1009.5,283.8V299.7M1013.5,287.0V293.6M1016.5,287.8V292.2M1019.5,283.6V291.8M1023.5,279.6V287.1M1039.5,293.8V300.4M1043.5,287.0V296.0M1046.5,284.7V292.0M1056.5,295.3V298.1M1073.5,305.6V312.0M1080.5,309.8V312.5M1083.5,308.4V311.3M1086.5,305.7V313.5M1110.5,332.5V339.1M1120.5,337.6V343.4M1123.5,333.0V338.6M1127.5,318.2V335.6M1130.5,318.4V327.7M1137.5,320.7V327.8M1153.5,340.0V352.1M1157.5,330.6V344.1M1160.5,331.7V340.2M1163.5,333.2V345.0M1177.5,368.5V376.3M1180.5,360.6V372.3M1183.5,350.7V367.4M1197.5,358.9V371.8M1200.5,359.0V366.7M1210.5,346.2V362.0M1214.5,341.2V355.7M1220.5,345.6V351.3M1224.5,347.0V353.5M1234.5,354.5V363.2M1254.5,378.3V381.9M1257.5,371.0V382.6M1261.5,361.9V377.3M1264.5,355.2V369.5M1267.5,351.3V362.2M1271.5,345.2V355.9M1274.5,338.0V348.0M1277.5,329.5V340.7M1287.5,328.5V341.2M1291.5,328.3V334.8M1304.5,335.1V345.4M1307.5,336.1V342.0M1311.5,336.0V343.5M1314.5,336.1V341.6M1317.5,337.2V345.3" stroke="#26a69a" stroke-width="1" fill="none"/>
<path d="M8.5,234.8V241.5M34.5,194.8V202.3M48.5,180.9V189.1M55.5,185.0V195.6M68.5,176.2V184.8M81.5,176.0V199.0M85.5,196.0V213.2M88.5,204.1V215.5M98.5,199.6V208.4M122.5,120.5V175.0M132.5,135.8V141.1M142.5,113.0V153.0M148.5,129.9V135.3M152.5,129.4V136.3M172.5,37.9V51.5M182.5,39.8V59.6M185.5,52.2V63.9M189.5,60.0V83.0M192.5,73.6V85.7M195.5,73.5V79.7M202.5,75.1V86.1M215.5,72.8V77.0M219.5,74.5V84.4M235.5,62.0V69.9M245.5,70.4V85.7M249.5,82.9V95.6M256.5,84.0V107.0M279.5,31.0V39.8M286.5,31.4V36.3M292.5,34.2V49.6M296.5,42.5V53.2M312.5,35.8V41.6M316.5,38.8V50.3M319.5,47.0V57.7M323.5,49.5V62.8M326.5,54.1V63.4M329.5,56.7V66.9M333.5,55.4V63.6M343.5,48.6V55.5M349.5,54.9V67.3M353.5,58.0V85.5M356.5,71.5V82.7M363.5,70.5V78.7M366.5,72.0V79.1M373.5,73.6V79.1M379.5,81.3V92.0M396.5,78.4V81.8M400.5,78.6V95.3M403.5,87.4V102.3M406.5,96.6V112.2M416.5,87.5V97.5M420.5,94.1V107.2M423.5,106.7V126.5M426.5,119.1V139.0M436.5,124.8V139.1M440.5,132.8V146.9M443.5,139.3V156.7M453.5,135.1V144.4M457.5,137.3V149.8M463.5,141.7V148.6M467.5,145.1V155.6M503.5,106.9V112.4M507.5,110.2V127.3M510.5,116.1V127.3M513.5,118.6V125.3M520.5,120.2V133.6M534.5,105.0V127.5M537.5,118.7V138.5M540.5,125.3V137.3M547.5,122.0V131.1M550.5,127.8V137.2M554.5,129.8V135.3M564.5,126.7V139.4M570.5,130.5V135.6M577.5,130.6V141.5M580.5,139.5V159.5M584.5,150.7V172.1M587.5,163.1V182.7M591.5,176.6V195.7M594.5,185.7V202.0M597.5,194.0V210.2M604.5,190.2V197.5M611.5,187.7V193.5M614.5,187.0V199.6M617.5,194.8V204.6M627.5,193.6V195.6M634.5,192.5V195.8M647.5,190.0V213.5M654.5,190.0V202.7M661.5,197.0V207.3M664.5,202.3V220.5M668.5,208.5V217.1M674.5,205.6V215.2M691.5,190.6V200.3M694.5,197.5V207.3M701.5,202.1V208.7M704.5,205.2V213.3M714.5,208.4V213.8M718.5,211.0V226.2M721.5,236.0V250.5M731.5,227.1V236.5M741.5,220.5V227.6M751.5,216.8V229.9M755.5,224.2V233.3M758.5,229.3V245.9M761.5,240.2V251.5M771.5,239.0V243.4M778.5,243.3V252.4M781.5,247.0V256.5M785.5,255.2V265.0M788.5,259.2V269.6M792.5,260.8V265.7M795.5,259.6V268.0M798.5,262.3V270.1M802.5,260.5V267.5M805.5,256.1V264.6M812.5,258.4V266.4M815.5,258.9V266.4M818.5,260.5V270.4M822.5,263.2V270.7M825.5,269.8V278.0M828.5,273.5V283.0M832.5,274.6V278.6M835.5,268.4V275.0M855.5,245.3V252.8M859.5,246.8V252.8M862.5,250.0V261.0M865.5,252.6V261.4M872.5,243.7V253.4M895.5,219.3V228.4M899.5,221.8V235.6M902.5,229.2V236.8M912.5,221.5V228.9M915.5,222.8V229.5M922.5,219.0V242.5M926.5,230.7V242.6M932.5,229.1V237.2M936.5,227.1V235.7M946.5,235.5V254.0M949.5,244.3V257.5M952.5,252.7V265.3M956.5,258.3V264.6M959.5,258.8V270.6M976.5,270.5V281.6M979.5,274.3V283.2M986.5,279.7V288.8M989.5,287.2V297.9M993.5,287.4V293.0M996.5,288.1V294.5M1026.5,280.5V286.5M1029.5,282.8V294.9M1033.5,290.0V298.8M1036.5,289.9V303.7M1049.5,287.6V292.6M1053.5,291.1V300.0M1060.5,296.4V308.8M1063.5,304.3V314.7M1066.5,309.0V316.7M1070.5,307.3V313.2M1076.5,308.8V312.8M1090.5,310.5V318.4M1093.5,313.6V324.4M1096.5,310.4V321.7M1100.5,312.8V319.8M1103.5,316.8V332.5M1106.5,326.9V338.8M1113.5,334.5V336.8M1116.5,334.9V340.3M1133.5,319.7V328.1M1140.5,323.6V334.9M1143.5,327.0V339.9M1147.5,335.7V350.6M1150.5,342.9V356.6M1167.5,339.9V353.0M1170.5,357.5V382.5M1173.5,365.1V380.8M1187.5,355.6V361.6M1190.5,359.4V370.1M1194.5,362.6V372.9M1204.5,363.0V371.7M1207.5,358.8V368.6M1217.5,347.5V350.4M1227.5,348.4V359.9M1230.5,351.0V360.6M1237.5,359.4V366.4M1240.5,360.6V371.2M1244.5,367.2V373.1M1247.5,368.1V376.7M1250.5,375.0V388.0M1281.5,331.7V338.4M1284.5,332.7V341.6M1294.5,331.6V336.0M1297.5,331.7V347.0M1301.5,337.8V348.1M1321.5,337.0V342.1" stroke="#ef5350" stroke-width="1" fill="none"/>
<path d="M10.1,231.0h2.8V235.8h-2.8zM13.1,225.6h2.8V232.6h-2.8zM17.1,221.0h2.8V227.3h-2.8zM20.1,215.6h2.8V222.5h-2.8zM23.1,206.7h2.8V216.6h-2.8zM27.1,199.1h2.8V209.8h-2.8zM30.1,199.5h2.8V204.3h-2.8zM37.1,200.1h2.8V201.3h-2.8zM40.1,195.6h2.8V199.3h-2.8zM43.1,185.5h2.8V194.7h-2.8zM50.1,186.0h2.8V187.3h-2.8zM57.1,188.4h2.8V191.6h-2.8zM60.1,186.2h2.8V189.5h-2.8zM64.1,181.3h2.8V186.0h-2.8zM70.1,176.8h2.8V182.0h-2.8zM74.1,174.5h2.8V180.4h-2.8zM77.1,176.7h2.8V181.6h-2.8zM90.1,203.3h2.8V208.6h-2.8zM94.1,201.2h2.8V205.8h-2.8zM100.1,195.0h2.8V202.4h-2.8zM104.1,187.3h2.8V196.7h-2.8zM107.1,181.3h2.8V189.3h-2.8zM110.1,168.1h2.8V180.7h-2.8zM114.1,145.6h2.8V163.6h-2.8zM117.1,138.0h2.8V156.0h-2.8zM124.1,144.5h2.8V152.7h-2.8zM127.1,136.9h2.8V146.7h-2.8zM134.1,130.9h2.8V138.4h-2.8zM137.1,126.9h2.8V134.6h-2.8zM144.1,127.6h2.8V136.0h-2.8zM154.1,130.7h2.8V133.4h-2.8zM157.1,114.5h2.8V127.5h-2.8zM161.1,82.7h2.8V100.7h-2.8zM164.1,61.2h2.8V79.2h-2.8zM167.1,44.6h2.8V62.4h-2.8zM174.1,33.8h2.8V43.9h-2.8zM177.1,29.5h2.8V36.6h-2.8zM198.1,76.2h2.8V79.3h-2.8zM204.1,79.6h2.8V82.4h-2.8zM208.1,75.0h2.8V80.8h-2.8zM211.1,73.2h2.8V77.9h-2.8zM221.1,80.3h2.8V87.7h-2.8zM224.1,77.8h2.8V83.5h-2.8zM228.1,61.4h2.8V76.7h-2.8zM231.1,58.0h2.8V66.1h-2.8zM238.1,66.2h2.8V68.8h-2.8zM241.1,67.4h2.8V73.8h-2.8zM251.1,82.9h2.8V89.1h-2.8zM258.1,87.0h2.8V94.5h-2.8zM261.1,62.0h2.8V84.0h-2.8zM265.1,54.3h2.8V69.6h-2.8zM268.1,40.0h2.8V56.0h-2.8zM271.1,31.1h2.8V44.0h-2.8zM275.1,29.0h2.8V35.1h-2.8zM281.1,34.4h2.8V35.6h-2.8zM288.1,27.7h2.8V33.3h-2.8zM298.1,46.8h2.8V49.4h-2.8zM301.1,46.2h2.8V49.8h-2.8zM305.1,45.4h2.8V47.4h-2.8zM308.1,36.9h2.8V43.6h-2.8zM335.1,50.7h2.8V57.3h-2.8zM338.1,45.9h2.8V53.8h-2.8zM345.1,52.2h2.8V61.6h-2.8zM358.1,70.7h2.8V77.2h-2.8zM368.1,72.7h2.8V77.6h-2.8zM375.1,76.5h2.8V86.0h-2.8zM382.1,78.0h2.8V84.7h-2.8zM385.1,79.5h2.8V81.5h-2.8zM389.1,77.4h2.8V81.1h-2.8zM392.1,76.6h2.8V80.3h-2.8zM409.1,89.7h2.8V101.0h-2.8zM412.1,85.6h2.8V92.5h-2.8zM429.1,122.4h2.8V128.5h-2.8zM432.1,124.6h2.8V126.9h-2.8zM445.1,146.6h2.8V150.6h-2.8zM449.1,127.8h2.8V143.2h-2.8zM459.1,137.1h2.8V144.7h-2.8zM469.1,139.3h2.8V149.2h-2.8zM472.1,137.4h2.8V143.6h-2.8zM476.1,136.6h2.8V139.7h-2.8zM479.1,134.1h2.8V138.4h-2.8zM482.1,136.9h2.8V145.5h-2.8zM486.1,141.1h2.8V148.4h-2.8zM489.1,124.0h2.8V141.0h-2.8zM492.1,115.8h2.8V130.2h-2.8zM496.1,101.6h2.8V117.9h-2.8zM499.1,103.0h2.8V109.0h-2.8zM516.1,120.9h2.8V123.1h-2.8zM523.1,121.0h2.8V125.5h-2.8zM526.1,116.5h2.8V122.8h-2.8zM529.1,111.7h2.8V117.3h-2.8zM543.1,120.4h2.8V128.4h-2.8zM556.1,126.9h2.8V132.8h-2.8zM559.1,125.1h2.8V130.1h-2.8zM566.1,130.1h2.8V132.3h-2.8zM573.1,131.0h2.8V134.2h-2.8zM600.1,193.5h2.8V201.3h-2.8zM606.1,187.6h2.8V192.6h-2.8zM620.1,198.7h2.8V200.9h-2.8zM623.1,191.4h2.8V198.0h-2.8zM630.1,194.7h2.8V196.7h-2.8zM636.1,183.7h2.8V193.3h-2.8zM640.1,177.4h2.8V185.6h-2.8zM643.1,182.3h2.8V186.4h-2.8zM650.1,199.9h2.8V202.6h-2.8zM657.1,195.7h2.8V198.5h-2.8zM670.1,210.5h2.8V212.5h-2.8zM677.1,198.1h2.8V207.0h-2.8zM680.1,189.5h2.8V200.7h-2.8zM683.1,193.9h2.8V196.0h-2.8zM687.1,185.9h2.8V192.3h-2.8zM697.1,202.9h2.8V206.1h-2.8zM707.1,207.9h2.8V213.4h-2.8zM710.1,206.5h2.8V210.6h-2.8zM724.1,236.2h2.8V239.8h-2.8zM727.1,230.8h2.8V236.0h-2.8zM734.1,224.6h2.8V231.1h-2.8zM737.1,221.3h2.8V227.9h-2.8zM744.1,218.7h2.8V223.9h-2.8zM747.1,217.7h2.8V220.6h-2.8zM764.1,243.6h2.8V246.9h-2.8zM767.1,239.2h2.8V243.6h-2.8zM774.1,240.1h2.8V244.3h-2.8zM807.1,257.5h2.8V261.7h-2.8zM837.1,271.5h2.8V277.1h-2.8zM841.1,272.7h2.8V275.8h-2.8zM844.1,258.0h2.8V272.0h-2.8zM847.1,252.8h2.8V263.4h-2.8zM851.1,247.6h2.8V256.7h-2.8zM868.1,248.5h2.8V255.2h-2.8zM874.1,248.5h2.8V251.1h-2.8zM878.1,242.2h2.8V249.0h-2.8zM881.1,227.9h2.8V241.1h-2.8zM884.1,219.3h2.8V231.7h-2.8zM888.1,225.2h2.8V226.6h-2.8zM891.1,222.0h2.8V226.6h-2.8zM904.1,215.0h2.8V230.0h-2.8zM908.1,217.2h2.8V222.1h-2.8zM918.1,217.5h2.8V225.3h-2.8zM928.1,231.3h2.8V235.8h-2.8zM938.1,228.0h2.8V230.6h-2.8zM941.1,228.2h2.8V232.4h-2.8zM961.1,265.0h2.8V268.5h-2.8zM965.1,264.8h2.8V268.3h-2.8zM968.1,264.2h2.8V267.8h-2.8zM971.1,266.4h2.8V270.6h-2.8zM981.1,279.6h2.8V286.3h-2.8zM998.1,291.8h2.8V297.6h-2.8zM1002.1,295.3h2.8V298.8h-2.8zM1005.1,296.5h2.8V302.5h-2.8zM1008.1,287.1h2.8V297.2h-2.8zM1012.1,287.4h2.8V292.6h-2.8zM1015.1,288.7h2.8V289.9h-2.8zM1018.1,283.9h2.8V288.8h-2.8zM1022.1,280.3h2.8V286.1h-2.8zM1038.1,294.6h2.8V297.8h-2.8zM1042.1,287.0h2.8V294.6h-2.8zM1045.1,286.9h2.8V291.1h-2.8zM1055.1,295.3h2.8V297.5h-2.8zM1072.1,308.8h2.8V311.5h-2.8zM1079.1,310.4h2.8V311.6h-2.8zM1082.1,309.4h2.8V311.0h-2.8zM1085.1,308.3h2.8V311.7h-2.8zM1109.1,333.6h2.8V336.9h-2.8zM1119.1,337.6h2.8V340.4h-2.8zM1122.1,333.3h2.8V337.5h-2.8zM1126.1,321.6h2.8V332.1h-2.8zM1129.1,321.0h2.8V327.0h-2.8zM1136.1,322.6h2.8V325.4h-2.8zM1152.1,340.9h2.8V350.1h-2.8zM1156.1,332.1h2.8V342.1h-2.8zM1159.1,333.8h2.8V337.9h-2.8zM1162.1,336.2h2.8V345.0h-2.8zM1176.1,371.8h2.8V374.4h-2.8zM1179.1,361.9h2.8V370.1h-2.8zM1182.1,351.6h2.8V363.7h-2.8zM1196.1,359.8h2.8V368.4h-2.8zM1199.1,361.6h2.8V364.1h-2.8zM1209.1,349.3h2.8V359.8h-2.8zM1213.1,344.1h2.8V352.9h-2.8zM1219.1,348.2h2.8V349.8h-2.8zM1223.1,347.7h2.8V351.5h-2.8zM1233.1,355.1h2.8V361.5h-2.8zM1253.1,378.3h2.8V381.9h-2.8zM1256.1,371.0h2.8V379.7h-2.8zM1260.1,365.4h2.8V373.9h-2.8zM1263.1,357.2h2.8V367.7h-2.8zM1266.1,353.3h2.8V360.4h-2.8zM1270.1,345.9h2.8V353.8h-2.8zM1273.1,338.0h2.8V346.7h-2.8zM1276.1,331.3h2.8V339.1h-2.8zM1286.1,332.0h2.8V338.8h-2.8zM1290.1,331.4h2.8V334.8h-2.8zM1303.1,338.6h2.8V342.6h-2.8zM1306.1,336.1h2.8V339.9h-2.8zM1310.1,337.9h2.8V340.3h-2.8zM1313.1,339.3h2.8V340.7h-2.8zM1316.1,337.8h2.8V341.5h-2.8z" fill="#26a69a"/>
<path d="M7.1,235.3h2.8V239.9h-2.8zM33.1,198.0h2.8V202.3h-2.8zM47.1,184.3h2.8V189.1h-2.8zM54.1,187.1h2.8V192.9h-2.8zM67.1,178.2h2.8V184.2h-2.8zM80.1,178.0h2.8V197.0h-2.8zM84.1,196.0h2.8V209.6h-2.8zM87.1,205.1h2.8V213.1h-2.8zM97.1,200.4h2.8V205.0h-2.8zM121.1,132.0h2.8V163.0h-2.8zM131.1,136.3h2.8V140.6h-2.8zM141.1,125.0h2.8V138.0h-2.8zM147.1,130.7h2.8V131.8h-2.8zM151.1,132.2h2.8V135.8h-2.8zM171.1,40.6h2.8V51.5h-2.8zM181.1,40.7h2.8V58.3h-2.8zM184.1,52.2h2.8V62.3h-2.8zM188.1,62.0h2.8V81.0h-2.8zM191.1,74.7h2.8V83.5h-2.8zM194.1,75.0h2.8V79.7h-2.8zM201.1,78.2h2.8V83.8h-2.8zM214.1,72.8h2.8V75.4h-2.8zM218.1,75.0h2.8V83.2h-2.8zM234.1,62.0h2.8V68.8h-2.8zM244.1,74.2h2.8V84.1h-2.8zM248.1,84.2h2.8V95.6h-2.8zM255.1,86.0h2.8V97.0h-2.8zM278.1,32.7h2.8V36.2h-2.8zM285.1,31.4h2.8V36.3h-2.8zM291.1,35.3h2.8V49.6h-2.8zM295.1,45.3h2.8V52.6h-2.8zM311.1,38.9h2.8V40.6h-2.8zM315.1,39.8h2.8V47.7h-2.8zM318.1,47.0h2.8V57.2h-2.8zM322.1,53.2h2.8V62.8h-2.8zM325.1,56.7h2.8V61.8h-2.8zM328.1,60.3h2.8V63.2h-2.8zM332.1,55.9h2.8V62.0h-2.8zM342.1,49.9h2.8V52.6h-2.8zM348.1,58.4h2.8V64.2h-2.8zM352.1,60.0h2.8V83.0h-2.8zM355.1,71.9h2.8V81.2h-2.8zM362.1,73.4h2.8V76.1h-2.8zM365.1,74.9h2.8V78.0h-2.8zM372.1,73.6h2.8V77.2h-2.8zM378.1,82.5h2.8V88.4h-2.8zM395.1,78.4h2.8V81.8h-2.8zM399.1,82.1h2.8V92.1h-2.8zM402.1,89.6h2.8V98.8h-2.8zM405.1,97.9h2.8V108.7h-2.8zM415.1,90.7h2.8V96.5h-2.8zM419.1,97.0h2.8V107.2h-2.8zM422.1,107.4h2.8V124.3h-2.8zM425.1,121.7h2.8V137.1h-2.8zM435.1,126.9h2.8V135.5h-2.8zM439.1,133.8h2.8V146.9h-2.8zM442.1,142.8h2.8V155.2h-2.8zM452.1,137.3h2.8V142.9h-2.8zM456.1,141.1h2.8V148.1h-2.8zM462.1,141.7h2.8V146.0h-2.8zM466.1,147.1h2.8V155.6h-2.8zM502.1,106.9h2.8V111.0h-2.8zM506.1,113.0h2.8V123.6h-2.8zM509.1,118.9h2.8V126.0h-2.8zM512.1,119.0h2.8V121.7h-2.8zM519.1,123.6h2.8V130.2h-2.8zM533.1,107.0h2.8V126.0h-2.8zM536.1,118.7h2.8V135.3h-2.8zM539.1,127.3h2.8V134.2h-2.8zM546.1,125.1h2.8V128.1h-2.8zM549.1,127.8h2.8V133.8h-2.8zM553.1,131.4h2.8V135.3h-2.8zM563.1,128.0h2.8V136.1h-2.8zM569.1,132.2h2.8V135.6h-2.8zM576.1,133.1h2.8V140.7h-2.8zM579.1,141.8h2.8V157.8h-2.8zM583.1,154.0h2.8V169.6h-2.8zM586.1,166.1h2.8V180.2h-2.8zM590.1,179.3h2.8V195.7h-2.8zM593.1,189.5h2.8V199.8h-2.8zM596.1,196.3h2.8V207.4h-2.8zM603.1,190.7h2.8V195.8h-2.8zM610.1,188.8h2.8V190.4h-2.8zM613.1,190.7h2.8V197.1h-2.8zM616.1,195.6h2.8V203.0h-2.8zM626.1,193.6h2.8V194.8h-2.8zM633.1,193.3h2.8V195.8h-2.8zM646.1,193.2h2.8V211.2h-2.8zM653.1,193.8h2.8V200.7h-2.8zM660.1,199.3h2.8V205.9h-2.8zM663.1,206.0h2.8V217.4h-2.8zM667.1,211.6h2.8V214.2h-2.8zM673.1,208.0h2.8V212.5h-2.8zM690.1,190.6h2.8V198.6h-2.8zM693.1,197.8h2.8V206.6h-2.8zM700.1,202.7h2.8V205.9h-2.8zM703.1,205.5h2.8V210.7h-2.8zM713.1,208.4h2.8V211.5h-2.8zM717.1,213.4h2.8V226.2h-2.8zM720.1,237.0h2.8V249.0h-2.8zM730.1,227.7h2.8V233.4h-2.8zM740.1,222.9h2.8V226.7h-2.8zM750.1,219.1h2.8V226.9h-2.8zM754.1,224.2h2.8V232.9h-2.8zM757.1,232.7h2.8V242.3h-2.8zM760.1,240.2h2.8V249.2h-2.8zM770.1,239.0h2.8V242.6h-2.8zM777.1,244.1h2.8V252.1h-2.8zM780.1,250.5h2.8V256.5h-2.8zM784.1,255.2h2.8V262.5h-2.8zM787.1,260.0h2.8V269.1h-2.8zM791.1,262.5h2.8V264.5h-2.8zM794.1,263.1h2.8V264.3h-2.8zM797.1,263.6h2.8V269.1h-2.8zM801.1,261.8h2.8V267.5h-2.8zM804.1,259.2h2.8V263.8h-2.8zM811.1,259.0h2.8V263.9h-2.8zM814.1,262.0h2.8V265.4h-2.8zM817.1,263.6h2.8V267.2h-2.8zM821.1,266.5h2.8V269.8h-2.8zM824.1,270.2h2.8V276.2h-2.8zM827.1,273.5h2.8V280.2h-2.8zM831.1,274.6h2.8V276.5h-2.8zM834.1,269.4h2.8V273.8h-2.8zM854.1,247.4h2.8V252.8h-2.8zM858.1,249.0h2.8V251.0h-2.8zM861.1,250.0h2.8V257.8h-2.8zM864.1,255.3h2.8V259.2h-2.8zM871.1,245.0h2.8V251.2h-2.8zM894.1,222.4h2.8V225.6h-2.8zM898.1,225.3h2.8V232.3h-2.8zM901.1,229.2h2.8V235.0h-2.8zM911.1,222.1h2.8V228.9h-2.8zM914.1,224.6h2.8V229.5h-2.8zM921.1,221.0h2.8V241.0h-2.8zM925.1,233.0h2.8V239.3h-2.8zM931.1,231.2h2.8V233.8h-2.8zM935.1,228.0h2.8V233.6h-2.8zM945.1,236.7h2.8V251.9h-2.8zM948.1,247.2h2.8V256.9h-2.8zM951.1,253.2h2.8V262.3h-2.8zM955.1,258.9h2.8V264.6h-2.8zM958.1,262.2h2.8V267.0h-2.8zM975.1,271.2h2.8V280.1h-2.8zM978.1,276.9h2.8V282.4h-2.8zM985.1,283.4h2.8V287.7h-2.8zM988.1,287.2h2.8V296.3h-2.8zM992.1,289.5h2.8V291.8h-2.8zM995.1,289.8h2.8V293.6h-2.8zM1025.1,283.4h2.8V285.2h-2.8zM1028.1,285.7h2.8V292.4h-2.8zM1032.1,290.0h2.8V295.8h-2.8zM1035.1,293.5h2.8V301.5h-2.8zM1048.1,288.3h2.8V291.1h-2.8zM1052.1,291.8h2.8V298.1h-2.8zM1059.1,298.2h2.8V306.6h-2.8zM1062.1,304.3h2.8V313.5h-2.8zM1065.1,310.3h2.8V314.2h-2.8zM1069.1,310.2h2.8V312.2h-2.8zM1075.1,308.8h2.8V312.8h-2.8zM1089.1,310.5h2.8V317.1h-2.8zM1092.1,315.0h2.8V320.7h-2.8zM1095.1,313.6h2.8V319.0h-2.8zM1099.1,315.3h2.8V318.3h-2.8zM1102.1,319.4h2.8V330.2h-2.8zM1105.1,327.8h2.8V338.8h-2.8zM1112.1,335.0h2.8V336.3h-2.8zM1115.1,335.6h2.8V340.3h-2.8zM1132.1,322.1h2.8V325.9h-2.8zM1139.1,324.9h2.8V333.3h-2.8zM1142.1,330.7h2.8V338.4h-2.8zM1146.1,336.6h2.8V348.0h-2.8zM1149.1,346.2h2.8V356.0h-2.8zM1166.1,343.0h2.8V353.0h-2.8zM1169.1,359.0h2.8V381.0h-2.8zM1172.1,368.9h2.8V379.3h-2.8zM1186.1,357.6h2.8V361.6h-2.8zM1189.1,362.2h2.8V368.4h-2.8zM1193.1,365.5h2.8V372.9h-2.8zM1203.1,365.0h2.8V370.5h-2.8zM1206.1,361.2h2.8V367.2h-2.8zM1216.1,347.5h2.8V349.2h-2.8zM1226.1,349.3h2.8V356.4h-2.8zM1229.1,353.6h2.8V357.5h-2.8zM1236.1,359.4h2.8V365.3h-2.8zM1239.1,363.5h2.8V369.9h-2.8zM1243.1,367.2h2.8V373.1h-2.8zM1246.1,370.1h2.8V376.7h-2.8zM1249.1,377.0h2.8V385.0h-2.8zM1280.1,334.4h2.8V338.4h-2.8zM1283.1,336.4h2.8V340.0h-2.8zM1293.1,333.0h2.8V336.0h-2.8zM1296.1,335.5h2.8V344.5h-2.8zM1300.1,340.2h2.8V346.6h-2.8zM1320.1,337.9h2.8V340.5h-2.8z" fill="#ef5350"/>
<path d="M289.5,26 L1324,339.3" stroke="#111" stroke-width="1.9" stroke-linecap="round" fill="none"/>
<g transform="translate(561.3,174.7)"><circle r="11.6" fill="#fff" stroke="#000" stroke-width="3.7"/><path d="M-5.9,-0.9 L-1.2,3.8 L5.9,-3.8" fill="none" stroke="#000" stroke-width="4.2"/></g>
<g transform="translate(759,274)"><circle r="11.6" fill="#fff" stroke="#000" stroke-width="3.7"/><path d="M-5.9,-0.9 L-1.2,3.8 L5.9,-3.8" fill="none" stroke="#000" stroke-width="4.2"/></g>
<g transform="translate(1061,338.5)"><circle r="11.6" fill="#fff" stroke="#000" stroke-width="3.7"/><path d="M-5.9,-0.9 L-1.2,3.8 L5.9,-3.8" fill="none" stroke="#000" stroke-width="4.2"/></g>
<path d="M7,513.5v-3.5h2v3.5zM10,513.5v-3.9h2v3.9zM14,513.5v-4.4h2v4.4zM17,513.5v-5.0h2v5.0zM21,513.5v-5.7h2v5.7zM24,513.5v-6.4h2v6.4zM27,513.5v-7.2h2v7.2zM31,513.5v-7.7h2v7.7zM34,513.5v-7.7h2v7.7zM37,513.5v-7.9h2v7.9zM41,513.5v-7.9h2v7.9zM111,513.5v-0.9h2v0.9zM114,513.5v-3.9h2v3.9zM118,513.5v-5.1h2v5.1zM121,513.5v-5.6h2v5.6zM124,513.5v-6.0h2v6.0zM128,513.5v-6.3h2v6.3zM131,513.5v-6.5h2v6.5zM134,513.5v-6.8h2v6.8zM138,513.5v-6.8h2v6.8zM158,513.5v-2.1h2v2.1zM161,513.5v-5.4h2v5.4zM165,513.5v-8.5h2v8.5zM168,513.5v-11.1h2v11.1zM171,513.5v-13.7h2v13.7zM268,513.5v-1.6h2v1.6zM272,513.5v-4.4h2v4.4zM275,513.5v-6.1h2v6.1zM466,513.5v-0.5h2v0.5zM469,513.5v-0.6h2v0.6zM473,513.5v-1.1h2v1.1zM476,513.5v-1.9h2v1.9zM479,513.5v-2.7h2v2.7zM483,513.5v-3.4h2v3.4zM486,513.5v-4.0h2v4.0zM490,513.5v-5.0h2v5.0zM493,513.5v-7.1h2v7.1zM496,513.5v-9.1h2v9.1zM500,513.5v-9.4h2v9.4zM503,513.5v-9.6h2v9.6zM530,513.5v-3.6h2v3.6zM533,513.5v-4.3h2v4.3zM627,513.5v-0.5h2v0.5zM630,513.5v-1.7h2v1.7zM634,513.5v-3.0h2v3.0zM637,513.5v-4.4h2v4.4zM640,513.5v-5.4h2v5.4zM654,513.5v-2.4h2v2.4zM657,513.5v-2.4h2v2.4zM677,513.5v-2.4h2v2.4zM680,513.5v-3.3h2v3.3zM684,513.5v-4.2h2v4.2zM687,513.5v-5.1h2v5.1zM741,513.5v-1.0h2v1.0zM744,513.5v-1.9h2v1.9zM747,513.5v-1.9h2v1.9zM751,513.5v-1.9h2v1.9zM771,513.5v-0.5h2v0.5zM774,513.5v-0.7h2v0.7zM814,513.5v-0.5h2v0.5zM818,513.5v-0.6h2v0.6zM825,513.5v-0.5h2v0.5zM828,513.5v-0.5h2v0.5zM831,513.5v-0.5h2v0.5zM835,513.5v-0.5h2v0.5zM838,513.5v-0.5h2v0.5zM841,513.5v-1.7h2v1.7zM845,513.5v-2.6h2v2.6zM848,513.5v-4.1h2v4.1zM851,513.5v-5.7h2v5.7zM855,513.5v-6.2h2v6.2zM858,513.5v-6.2h2v6.2zM861,513.5v-6.3h2v6.3zM878,513.5v-5.3h2v5.3zM881,513.5v-5.9h2v5.9zM885,513.5v-6.8h2v6.8zM888,513.5v-7.6h2v7.6zM908,513.5v-4.3h2v4.3zM1015,513.5v-0.5h2v0.5zM1019,513.5v-1.7h2v1.7zM1022,513.5v-2.4h2v2.4zM1039,513.5v-1.2h2v1.2zM1042,513.5v-2.0h2v2.0zM1046,513.5v-2.7h2v2.7zM1089,513.5v-0.5h2v0.5zM1093,513.5v-0.5h2v0.5zM1096,513.5v-0.5h2v0.5zM1099,513.5v-1.0h2v1.0zM1129,513.5v-1.0h2v1.0zM1133,513.5v-2.3h2v2.3zM1136,513.5v-3.5h2v3.5zM1156,513.5v-0.8h2v0.8zM1159,513.5v-2.0h2v2.0zM1196,513.5v-0.5h2v0.5zM1200,513.5v-0.9h2v0.9zM1203,513.5v-1.5h2v1.5zM1206,513.5v-2.4h2v2.4zM1210,513.5v-3.6h2v3.6zM1213,513.5v-4.6h2v4.6zM1216,513.5v-5.2h2v5.2zM1220,513.5v-5.6h2v5.6zM1263,513.5v-1.3h2v1.3zM1267,513.5v-2.5h2v2.5zM1270,513.5v-4.2h2v4.2zM1273,513.5v-4.6h2v4.6zM1277,513.5v-4.6h2v4.6zM1280,513.5v-5.0h2v5.0zM1283,513.5v-5.6h2v5.6zM1287,513.5v-6.3h2v6.3z" fill="#26a69a"/>
<path d="M44,513.5v-7.5h2v7.5zM47,513.5v-7.1h2v7.1zM51,513.5v-6.4h2v6.4zM54,513.5v-5.4h2v5.4zM57,513.5v-4.4h2v4.4zM61,513.5v-3.4h2v3.4zM64,513.5v-2.7h2v2.7zM67,513.5v-2.2h2v2.2zM71,513.5v-1.7h2v1.7zM74,513.5v-1.2h2v1.2zM141,513.5v-5.8h2v5.8zM144,513.5v-4.8h2v4.8zM148,513.5v-4.0h2v4.0zM151,513.5v-2.9h2v2.9zM155,513.5v-1.8h2v1.8zM175,513.5v-12.7h2v12.7zM178,513.5v-12.5h2v12.5zM181,513.5v-9.1h2v9.1zM185,513.5v-5.5h2v5.5zM188,513.5v-1.6h2v1.6zM278,513.5v-5.7h2v5.7zM282,513.5v-5.2h2v5.2zM285,513.5v-4.4h2v4.4zM289,513.5v-3.7h2v3.7zM292,513.5v-1.4h2v1.4zM506,513.5v-8.3h2v8.3zM510,513.5v-6.9h2v6.9zM513,513.5v-6.1h2v6.1zM516,513.5v-5.0h2v5.0zM520,513.5v-4.1h2v4.1zM523,513.5v-3.6h2v3.6zM526,513.5v-3.2h2v3.2zM536,513.5v-2.6h2v2.6zM540,513.5v-0.6h2v0.6zM644,513.5v-4.2h2v4.2zM647,513.5v-2.6h2v2.6zM650,513.5v-2.1h2v2.1zM660,513.5v-1.9h2v1.9zM664,513.5v-1.4h2v1.4zM667,513.5v-1.3h2v1.3zM670,513.5v-1.1h2v1.1zM674,513.5v-1.1h2v1.1zM691,513.5v-5.0h2v5.0zM694,513.5v-4.2h2v4.2zM697,513.5v-3.4h2v3.4zM701,513.5v-2.5h2v2.5zM704,513.5v-1.7h2v1.7zM707,513.5v-1.1h2v1.1zM711,513.5v-0.5h2v0.5zM754,513.5v-1.6h2v1.6zM757,513.5v-0.6h2v0.6zM778,513.5v-0.5h2v0.5zM821,513.5v-0.4h2v0.4zM865,513.5v-6.1h2v6.1zM868,513.5v-5.5h2v5.5zM871,513.5v-4.8h2v4.8zM875,513.5v-4.8h2v4.8zM891,513.5v-7.3h2v7.3zM895,513.5v-7.2h2v7.2zM898,513.5v-5.8h2v5.8zM902,513.5v-4.2h2v4.2zM905,513.5v-4.0h2v4.0zM912,513.5v-2.9h2v2.9zM915,513.5v-1.9h2v1.9zM918,513.5v-0.8h2v0.8zM1025,513.5v-2.1h2v2.1zM1029,513.5v-1.7h2v1.7zM1032,513.5v-1.3h2v1.3zM1036,513.5v-1.1h2v1.1zM1049,513.5v-2.4h2v2.4zM1052,513.5v-2.1h2v2.1zM1056,513.5v-1.7h2v1.7zM1059,513.5v-0.7h2v0.7zM1103,513.5v-0.5h2v0.5zM1139,513.5v-2.2h2v2.2zM1143,513.5v-0.9h2v0.9zM1146,513.5v-0.5h2v0.5zM1163,513.5v-1.1h2v1.1zM1166,513.5v-0.5h2v0.5zM1223,513.5v-5.2h2v5.2zM1227,513.5v-5.0h2v5.0zM1230,513.5v-4.2h2v4.2zM1233,513.5v-3.1h2v3.1zM1237,513.5v-2.0h2v2.0zM1240,513.5v-0.9h2v0.9zM1290,513.5v-5.9h2v5.9zM1293,513.5v-5.3h2v5.3zM1297,513.5v-4.0h2v4.0zM1300,513.5v-2.6h2v2.6zM1304,513.5v-1.7h2v1.7zM1307,513.5v-0.8h2v0.8z" fill="#b2dfdb"/>
<path d="M77,513.5v1.1h2v-1.1zM81,513.5v3.4h2v-3.4zM84,513.5v5.6h2v-5.6zM87,513.5v6.1h2v-6.1zM91,513.5v6.5h2v-6.5zM191,513.5v2.3h2v-2.3zM195,513.5v5.2h2v-5.2zM198,513.5v8.0h2v-8.0zM201,513.5v9.1h2v-9.1zM205,513.5v9.5h2v-9.5zM208,513.5v9.9h2v-9.9zM235,513.5v4.7h2v-4.7zM238,513.5v5.0h2v-5.0zM242,513.5v5.7h2v-5.7zM245,513.5v6.6h2v-6.6zM248,513.5v7.2h2v-7.2zM252,513.5v7.6h2v-7.6zM295,513.5v0.5h2v-0.5zM299,513.5v0.9h2v-0.9zM302,513.5v1.5h2v-1.5zM305,513.5v1.8h2v-1.8zM315,513.5v1.7h2v-1.7zM319,513.5v3.0h2v-3.0zM322,513.5v4.2h2v-4.2zM325,513.5v4.9h2v-4.9zM345,513.5v3.6h2v-3.6zM349,513.5v4.8h2v-4.8zM352,513.5v5.7h2v-5.7zM356,513.5v5.9h2v-5.9zM359,513.5v6.1h2v-6.1zM396,513.5v1.4h2v-1.4zM399,513.5v2.5h2v-2.5zM402,513.5v3.6h2v-3.6zM406,513.5v3.8h2v-3.8zM419,513.5v3.2h2v-3.2zM423,513.5v3.9h2v-3.9zM426,513.5v4.5h2v-4.5zM429,513.5v4.8h2v-4.8zM433,513.5v5.4h2v-5.4zM436,513.5v6.1h2v-6.1zM439,513.5v6.9h2v-6.9zM443,513.5v7.9h2v-7.9zM543,513.5v0.5h2v-0.5zM546,513.5v0.7h2v-0.7zM550,513.5v1.1h2v-1.1zM553,513.5v1.2h2v-1.2zM557,513.5v1.2h2v-1.2zM560,513.5v1.2h2v-1.2zM563,513.5v1.2h2v-1.2zM567,513.5v1.2h2v-1.2zM570,513.5v1.2h2v-1.2zM573,513.5v1.2h2v-1.2zM577,513.5v1.4h2v-1.4zM580,513.5v2.2h2v-2.2zM583,513.5v2.9h2v-2.9zM587,513.5v5.5h2v-5.5zM590,513.5v7.3h2v-7.3zM593,513.5v8.6h2v-8.6zM597,513.5v10.0h2v-10.0zM600,513.5v10.7h2v-10.7zM714,513.5v0.4h2v-0.4zM717,513.5v1.9h2v-1.9zM721,513.5v3.3h2v-3.3zM724,513.5v4.1h2v-4.1zM761,513.5v0.5h2v-0.5zM764,513.5v0.8h2v-0.8zM781,513.5v0.5h2v-0.5zM784,513.5v1.0h2v-1.0zM788,513.5v1.7h2v-1.7zM794,513.5v1.9h2v-1.9zM798,513.5v2.1h2v-2.1zM808,513.5v0.5h2v-0.5zM811,513.5v0.5h2v-0.5zM922,513.5v0.5h2v-0.5zM925,513.5v1.2h2v-1.2zM928,513.5v1.7h2v-1.7zM938,513.5v1.2h2v-1.2zM942,513.5v2.6h2v-2.6zM945,513.5v3.3h2v-3.3zM948,513.5v5.1h2v-5.1zM952,513.5v6.7h2v-6.7zM955,513.5v6.9h2v-6.9zM985,513.5v4.1h2v-4.1zM989,513.5v4.1h2v-4.1zM992,513.5v4.2h2v-4.2zM1005,513.5v3.1h2v-3.1zM1062,513.5v0.5h2v-0.5zM1066,513.5v1.0h2v-1.0zM1072,513.5v1.0h2v-1.0zM1076,513.5v1.1h2v-1.1zM1079,513.5v1.2h2v-1.2zM1106,513.5v0.6h2v-0.6zM1109,513.5v1.5h2v-1.5zM1113,513.5v1.8h2v-1.8zM1116,513.5v2.0h2v-2.0zM1119,513.5v2.6h2v-2.6zM1149,513.5v1.0h2v-1.0zM1170,513.5v1.7h2v-1.7zM1173,513.5v3.4h2v-3.4zM1193,513.5v0.5h2v-0.5zM1243,513.5v0.5h2v-0.5zM1247,513.5v1.5h2v-1.5zM1250,513.5v2.5h2v-2.5zM1310,513.5v0.5h2v-0.5zM1314,513.5v0.5h2v-0.5zM1317,513.5v0.5h2v-0.5zM1320,513.5v0.5h2v-0.5z" fill="#ef5350"/>
<path d="M94,513.5v5.9h2v-5.9zM98,513.5v5.7h2v-5.7zM101,513.5v5.5h2v-5.5zM104,513.5v3.0h2v-3.0zM108,513.5v1.6h2v-1.6zM211,513.5v9.4h2v-9.4zM215,513.5v8.5h2v-8.5zM218,513.5v7.7h2v-7.7zM221,513.5v6.7h2v-6.7zM225,513.5v5.7h2v-5.7zM228,513.5v4.6h2v-4.6zM232,513.5v4.5h2v-4.5zM255,513.5v7.3h2v-7.3zM258,513.5v5.4h2v-5.4zM262,513.5v3.7h2v-3.7zM265,513.5v1.1h2v-1.1zM309,513.5v1.6h2v-1.6zM312,513.5v1.4h2v-1.4zM329,513.5v4.7h2v-4.7zM332,513.5v4.5h2v-4.5zM335,513.5v4.2h2v-4.2zM339,513.5v3.8h2v-3.8zM342,513.5v3.4h2v-3.4zM362,513.5v6.1h2v-6.1zM366,513.5v5.7h2v-5.7zM369,513.5v5.3h2v-5.3zM372,513.5v4.7h2v-4.7zM376,513.5v3.9h2v-3.9zM379,513.5v3.0h2v-3.0zM382,513.5v2.3h2v-2.3zM386,513.5v1.8h2v-1.8zM389,513.5v1.3h2v-1.3zM392,513.5v0.8h2v-0.8zM409,513.5v3.1h2v-3.1zM412,513.5v2.5h2v-2.5zM416,513.5v1.8h2v-1.8zM446,513.5v6.4h2v-6.4zM449,513.5v4.2h2v-4.2zM453,513.5v3.0h2v-3.0zM456,513.5v2.2h2v-2.2zM459,513.5v1.5h2v-1.5zM463,513.5v0.8h2v-0.8zM603,513.5v10.3h2v-10.3zM607,513.5v8.2h2v-8.2zM610,513.5v6.4h2v-6.4zM613,513.5v4.9h2v-4.9zM617,513.5v3.6h2v-3.6zM620,513.5v2.7h2v-2.7zM623,513.5v1.1h2v-1.1zM727,513.5v3.3h2v-3.3zM731,513.5v2.5h2v-2.5zM734,513.5v1.5h2v-1.5zM737,513.5v0.5h2v-0.5zM768,513.5v0.5h2v-0.5zM791,513.5v1.6h2v-1.6zM801,513.5v1.2h2v-1.2zM804,513.5v0.5h2v-0.5zM932,513.5v1.3h2v-1.3zM935,513.5v1.1h2v-1.1zM959,513.5v6.7h2v-6.7zM962,513.5v6.6h2v-6.6zM965,513.5v6.1h2v-6.1zM969,513.5v5.5h2v-5.5zM972,513.5v5.0h2v-5.0zM975,513.5v4.6h2v-4.6zM979,513.5v4.1h2v-4.1zM982,513.5v4.0h2v-4.0zM995,513.5v3.7h2v-3.7zM999,513.5v3.0h2v-3.0zM1002,513.5v2.8h2v-2.8zM1009,513.5v2.0h2v-2.0zM1012,513.5v1.2h2v-1.2zM1069,513.5v0.9h2v-0.9zM1082,513.5v0.9h2v-0.9zM1086,513.5v0.5h2v-0.5zM1123,513.5v1.7h2v-1.7zM1126,513.5v0.5h2v-0.5zM1153,513.5v0.6h2v-0.6zM1176,513.5v3.3h2v-3.3zM1180,513.5v3.3h2v-3.3zM1183,513.5v1.7h2v-1.7zM1186,513.5v0.5h2v-0.5zM1190,513.5v0.5h2v-0.5zM1253,513.5v2.1h2v-2.1zM1257,513.5v1.9h2v-1.9zM1260,513.5v0.4h2v-0.4z" fill="#ffcdd2"/>
<path d="M5.0,520.2 L8.3,519.0 L11.7,517.5 L15.0,516.0 L18.4,514.3 L21.8,512.6 L25.1,511.0 L28.4,509.3 L31.8,507.7 L35.1,506.1 L38.5,504.6 L41.8,503.1 L45.2,501.7 L48.5,500.5 L51.9,499.4 L55.2,498.5 L58.6,497.8 L61.9,497.1 L65.3,496.6 L68.6,496.1 L72.0,495.8 L75.3,495.5 L78.7,495.3 L82.0,495.5 L85.4,496.3 L88.7,497.7 L92.1,499.5 L95.4,501.1 L98.8,502.5 L102.1,503.7 L105.5,504.5 L108.8,504.9 L112.2,504.6 L115.5,503.7 L118.9,502.4 L122.2,501.1 L125.6,499.8 L128.9,498.4 L132.3,497.1 L135.6,495.8 L139.0,494.7 L142.3,493.7 L145.7,492.9 L149.0,492.1 L152.4,491.5 L155.7,490.8 L159.1,489.8 L162.4,488.6 L165.8,486.8 L169.1,484.2 L172.5,481.2 L175.8,478.6 L179.2,476.5 L182.5,474.9 L185.9,473.9 L189.2,473.7 L192.6,474.1 L195.9,475.2 L199.3,476.7 L202.6,478.6 L206.0,480.6 L209.3,482.6 L212.7,484.6 L216.0,486.6 L219.4,488.6 L222.7,490.2 L226.1,491.4 L229.4,492.3 L232.8,493.1 L236.1,493.9 L239.5,494.9 L242.8,496.3 L246.2,497.8 L249.5,499.3 L252.9,500.8 L256.2,502.3 L259.6,503.7 L262.9,504.5 L266.3,504.2 L269.6,503.1 L273.0,501.8 L276.3,500.6 L279.7,499.5 L283.0,498.6 L286.4,497.6 L289.7,496.6 L293.1,496.1 L296.4,496.3 L299.8,496.7 L303.1,497.2 L306.5,497.7 L309.8,498.2 L313.2,498.7 L316.5,499.3 L319.9,499.9 L323.2,500.6 L326.6,501.5 L329.9,502.7 L333.3,503.9 L336.6,505.0 L340.0,506.0 L343.3,507.0 L346.7,508.0 L350.0,509.0 L353.4,510.1 L356.7,511.6 L360.1,513.2 L363.4,514.3 L366.8,515.0 L370.1,515.6 L373.5,516.5 L376.8,517.6 L380.2,518.6 L383.5,519.1 L386.9,519.4 L390.2,519.7 L393.6,519.9 L396.9,520.2 L400.3,520.5 L403.6,520.7 L407.0,521.0 L410.3,521.3 L413.7,521.8 L417.0,522.4 L420.4,523.4 L423.7,524.8 L427.1,526.4 L430.4,527.8 L433.8,529.0 L437.1,530.2 L440.5,531.3 L443.8,532.4 L447.2,533.4 L450.5,534.2 L453.9,534.6 L457.2,534.9 L460.6,535.1 L463.9,535.2 L467.3,535.2 L470.6,534.7 L474.0,534.1 L477.3,533.4 L480.7,532.8 L484.0,532.1 L487.4,531.4 L490.7,530.5 L494.1,529.0 L497.4,527.2 L500.8,525.3 L504.1,523.4 L507.5,521.6 L510.8,519.9 L514.2,518.6 L517.5,517.5 L520.9,516.7 L524.2,515.9 L527.6,515.3 L530.9,514.8 L534.3,514.4 L537.6,514.1 L541.0,514.0 L544.3,513.9 L547.7,513.9 L551.0,514.0 L554.4,514.1 L557.7,514.2 L561.1,514.3 L564.4,514.5 L567.8,514.8 L571.1,515.1 L574.5,515.6 L577.8,516.2 L581.2,517.1 L584.5,518.4 L587.9,520.1 L591.2,522.2 L594.6,524.5 L597.9,526.5 L601.3,528.3 L604.6,529.9 L608.0,531.4 L611.3,532.7 L614.7,533.8 L618.0,534.7 L621.4,535.3 L624.7,535.5 L628.1,535.4 L631.4,535.0 L634.8,534.4 L638.1,533.6 L641.5,532.6 L644.8,531.6 L648.2,530.8 L651.5,530.2 L654.9,529.7 L658.2,529.4 L661.6,529.3 L664.9,529.1 L668.3,528.9 L671.6,528.7 L675.0,528.3 L678.3,527.6 L681.7,526.8 L685.0,526.0 L688.4,525.1 L691.7,524.3 L695.1,523.5 L698.4,522.8 L701.8,522.3 L705.1,521.8 L708.5,521.4 L711.8,521.1 L715.2,521.3 L718.5,522.1 L721.9,523.3 L725.2,524.3 L728.6,525.0 L731.9,525.7 L735.3,526.1 L738.6,526.2 L742.0,526.1 L745.3,525.8 L748.7,525.2 L752.0,524.7 L755.4,524.6 L758.7,524.8 L762.1,525.0 L765.4,525.4 L768.8,525.8 L772.1,526.2 L775.5,526.6 L778.8,527.0 L782.2,527.5 L785.5,528.0 L788.9,528.6 L792.2,529.1 L795.6,529.4 L798.9,529.5 L802.3,529.5 L805.6,529.3 L809.0,528.9 L812.3,528.4 L815.7,528.1 L819.0,528.0 L822.4,528.0 L825.7,528.0 L829.1,528.0 L832.4,527.9 L835.8,527.8 L839.1,527.6 L842.5,527.3 L845.8,526.7 L849.2,525.8 L852.5,524.6 L855.9,523.2 L859.2,521.9 L862.6,520.6 L865.9,519.4 L869.3,518.3 L872.6,517.1 L876.0,515.9 L879.3,514.7 L882.7,513.5 L886.0,512.0 L889.4,510.5 L892.7,509.0 L896.1,507.8 L899.4,506.6 L902.8,505.7 L906.1,505.0 L909.5,504.3 L912.8,503.8 L916.2,503.3 L919.5,503.1 L922.9,503.2 L926.2,503.6 L929.6,504.2 L932.9,504.6 L936.3,505.0 L939.6,505.3 L943.0,505.9 L946.3,506.8 L949.7,508.2 L953.0,509.9 L956.4,511.7 L959.7,513.5 L963.1,515.3 L966.4,517.0 L969.8,518.7 L973.1,520.3 L976.5,521.9 L979.8,523.3 L983.2,524.6 L986.5,525.6 L989.9,526.6 L993.2,527.5 L996.6,528.4 L999.9,529.1 L1003.3,529.7 L1006.6,529.8 L1010.0,529.6 L1013.3,529.2 L1016.7,528.8 L1020.0,528.2 L1023.4,527.6 L1026.8,526.9 L1030.1,526.3 L1033.4,525.8 L1036.8,525.4 L1040.1,525.1 L1043.5,524.7 L1046.8,524.0 L1050.2,523.3 L1053.5,522.8 L1056.9,522.6 L1060.2,523.0 L1063.6,523.6 L1066.9,524.3 L1070.3,524.6 L1073.6,524.8 L1077.0,524.9 L1080.3,525.0 L1083.7,524.9 L1087.0,524.6 L1090.4,524.4 L1093.7,524.6 L1097.1,524.9 L1100.4,525.3 L1103.8,525.7 L1107.1,526.2 L1110.5,526.7 L1113.8,527.1 L1117.2,527.4 L1120.5,527.4 L1123.9,527.0 L1127.2,526.5 L1130.6,526.1 L1133.9,525.6 L1137.3,525.2 L1140.6,524.8 L1144.0,524.5 L1147.3,524.4 L1150.7,524.6 L1154.0,524.9 L1157.4,524.9 L1160.7,524.7 L1164.1,524.6 L1167.4,524.9 L1170.8,525.8 L1174.1,526.9 L1177.5,527.8 L1180.8,528.5 L1184.2,528.9 L1187.5,528.9 L1190.9,528.5 L1194.2,528.2 L1197.6,528.0 L1200.9,527.8 L1204.3,527.6 L1207.6,527.1 L1211.0,526.4 L1214.3,525.5 L1217.7,524.5 L1221.0,523.5 L1224.4,522.5 L1227.7,521.6 L1231.1,520.8 L1234.4,520.2 L1237.8,519.9 L1241.1,519.8 L1244.5,519.9 L1247.8,520.2 L1251.2,520.5 L1254.5,520.9 L1257.9,521.1 L1261.2,521.1 L1264.6,520.8 L1267.9,520.0 L1271.3,518.8 L1274.6,517.0 L1278.0,515.3 L1281.3,513.8 L1284.7,512.5 L1288.0,511.3 L1291.4,510.2 L1294.7,509.2 L1298.1,508.5 L1301.4,508.0 L1304.8,507.5 L1308.1,507.2 L1311.5,507.0 L1314.8,506.9 L1318.2,506.9 L1321.5,506.9 L1323.0,507.0" fill="none" stroke="#f5812a" stroke-width="1.4" stroke-linejoin="round"/>
<path d="M5.0,517.7 L8.3,516.3 L11.7,514.4 L15.0,512.4 L18.4,510.3 L21.8,508.0 L25.1,505.7 L28.4,503.5 L31.8,501.5 L35.1,499.7 L38.5,498.2 L41.8,496.7 L45.2,495.5 L48.5,494.7 L51.9,494.5 L55.2,494.5 L58.6,494.5 L61.9,494.5 L65.3,494.3 L68.6,494.1 L72.0,494.1 L75.3,494.9 L78.7,496.5 L82.0,498.7 L85.4,500.7 L88.7,502.8 L92.1,504.7 L95.4,506.4 L98.8,507.5 L102.1,507.8 L105.5,507.2 L108.8,505.6 L112.2,503.2 L115.5,500.5 L118.9,498.3 L122.2,496.6 L125.6,494.9 L128.9,493.3 L132.3,491.7 L135.6,490.3 L139.0,489.3 L142.3,489.0 L145.7,489.0 L149.0,489.1 L152.4,489.4 L155.7,489.5 L159.1,488.0 L162.4,484.5 L165.8,479.8 L169.1,474.8 L172.5,470.4 L175.8,467.9 L179.2,467.2 L182.5,467.9 L185.9,469.9 L189.2,472.9 L192.6,476.2 L195.9,479.7 L199.3,483.2 L202.6,486.2 L206.0,488.6 L209.3,490.6 L212.7,492.3 L216.0,493.7 L219.4,494.8 L222.7,495.3 L226.1,495.6 L229.4,496.0 L232.8,496.6 L236.1,497.5 L239.5,498.9 L242.8,500.8 L246.2,503.1 L249.5,505.2 L252.9,506.9 L256.2,508.1 L259.6,508.1 L262.9,507.0 L266.3,504.7 L269.6,501.5 L273.0,498.0 L276.3,495.8 L279.7,494.9 L283.0,494.4 L286.4,494.0 L289.7,494.4 L293.1,495.3 L296.4,496.4 L299.8,497.5 L303.1,498.4 L306.5,499.2 L309.8,499.5 L313.2,499.8 L316.5,500.8 L319.9,502.4 L323.2,504.1 L326.6,505.5 L329.9,506.6 L333.3,507.5 L336.6,508.3 L340.0,508.8 L343.3,509.6 L346.7,511.0 L350.0,512.8 L353.4,514.8 L356.7,516.8 L360.1,518.3 L363.4,519.1 L366.8,519.5 L370.1,519.8 L373.5,520.1 L376.8,520.5 L380.2,520.8 L383.5,521.0 L386.9,520.9 L390.2,520.6 L393.6,520.6 L396.9,521.2 L400.3,522.4 L403.6,523.6 L407.0,524.0 L410.3,523.7 L413.7,523.5 L417.0,524.3 L420.4,526.0 L423.7,528.1 L427.1,530.0 L430.4,531.7 L433.8,533.4 L437.1,535.1 L440.5,536.9 L443.8,538.4 L447.2,538.6 L450.5,537.6 L453.9,536.9 L457.2,536.5 L460.6,536.2 L463.9,535.7 L467.3,535.1 L470.6,534.3 L474.0,533.2 L477.3,531.9 L480.7,530.6 L484.0,529.3 L487.4,528.2 L490.7,526.3 L494.1,523.1 L497.4,519.8 L500.8,517.4 L504.1,515.8 L507.5,515.0 L510.8,514.4 L514.2,514.0 L517.5,513.7 L520.9,513.5 L524.2,513.2 L527.6,512.8 L530.9,511.9 L534.3,511.4 L537.6,512.2 L541.0,513.5 L544.3,514.3 L547.7,514.6 L551.0,514.9 L554.4,515.1 L557.7,515.2 L561.1,515.4 L564.4,515.5 L567.8,515.8 L571.1,516.1 L574.5,516.6 L577.8,517.3 L581.2,518.8 L584.5,521.2 L587.9,524.6 L591.2,528.2 L594.6,531.5 L597.9,534.6 L601.3,536.9 L604.6,537.8 L608.0,537.8 L611.3,537.6 L614.7,537.5 L618.0,537.5 L621.4,537.1 L624.7,536.3 L628.1,535.0 L631.4,533.5 L634.8,531.8 L638.1,530.0 L641.5,528.5 L644.8,528.2 L648.2,528.7 L651.5,528.5 L654.9,527.9 L658.2,527.6 L661.6,527.8 L664.9,528.0 L668.3,528.2 L671.6,528.1 L675.0,527.2 L678.3,525.7 L681.7,524.1 L685.0,522.6 L688.4,521.1 L691.7,520.1 L695.1,519.9 L698.4,520.1 L701.8,520.3 L705.1,520.6 L708.5,520.7 L711.8,520.9 L715.2,521.7 L718.5,523.8 L721.9,526.2 L725.2,527.6 L728.6,528.0 L731.9,527.8 L735.3,527.1 L738.6,526.1 L742.0,525.1 L745.3,524.2 L748.7,523.6 L752.0,523.2 L755.4,523.3 L758.7,524.3 L762.1,525.4 L765.4,526.0 L768.8,526.0 L772.1,525.8 L775.5,526.0 L778.8,526.7 L782.2,527.8 L785.5,529.0 L788.9,529.9 L792.2,530.6 L795.6,531.0 L798.9,530.9 L802.3,530.4 L805.6,529.7 L809.0,529.0 L812.3,528.4 L815.7,527.9 L819.0,527.6 L822.4,527.6 L825.7,527.8 L829.1,528.0 L832.4,528.0 L835.8,527.8 L839.1,527.3 L842.5,526.1 L845.8,524.3 L849.2,522.2 L852.5,520.0 L855.9,518.1 L859.2,516.7 L862.6,515.5 L865.9,514.6 L869.3,514.0 L872.6,513.3 L876.0,512.2 L879.3,510.6 L882.7,508.7 L886.0,506.5 L889.4,504.4 L892.7,503.0 L896.1,502.2 L899.4,502.2 L902.8,502.3 L906.1,501.8 L909.5,501.2 L912.8,501.4 L916.2,501.9 L919.5,502.7 L922.9,503.7 L926.2,504.7 L929.6,505.5 L932.9,505.7 L936.3,505.8 L939.6,506.4 L943.0,507.9 L946.3,510.0 L949.7,512.6 L953.0,515.2 L956.4,517.4 L959.7,519.1 L963.1,520.6 L966.4,521.9 L969.8,523.0 L973.1,524.2 L976.5,525.4 L979.8,526.5 L983.2,527.7 L986.5,528.8 L989.9,529.8 L993.2,530.8 L996.6,531.5 L999.9,532.0 L1003.3,532.1 L1006.6,531.9 L1010.0,531.3 L1013.3,530.1 L1016.7,528.5 L1020.0,526.7 L1023.4,525.7 L1026.8,525.2 L1030.1,525.0 L1033.4,524.8 L1036.8,524.6 L1040.1,524.1 L1043.5,523.1 L1046.8,522.0 L1050.2,521.3 L1053.5,521.0 L1056.9,521.4 L1060.2,522.6 L1063.6,524.1 L1066.9,525.1 L1070.3,525.6 L1073.6,525.9 L1077.0,526.1 L1080.3,526.0 L1083.7,525.6 L1087.0,525.1 L1090.4,524.6 L1093.7,524.3 L1097.1,524.3 L1100.4,524.5 L1103.8,525.3 L1107.1,526.6 L1110.5,527.8 L1113.8,528.9 L1117.2,529.6 L1120.5,529.4 L1123.9,528.2 L1127.2,526.6 L1130.6,525.0 L1133.9,523.6 L1137.3,522.7 L1140.6,522.9 L1144.0,523.7 L1147.3,524.7 L1150.7,525.5 L1154.0,525.5 L1157.4,524.3 L1160.7,523.3 L1164.1,523.6 L1167.4,525.0 L1170.8,527.4 L1174.1,529.6 L1177.5,530.7 L1180.8,530.7 L1184.2,530.0 L1187.5,529.2 L1190.9,528.7 L1194.2,528.2 L1197.6,527.7 L1200.9,527.2 L1204.3,526.4 L1207.6,525.2 L1211.0,523.4 L1214.3,521.7 L1217.7,520.2 L1221.0,519.0 L1224.4,518.2 L1227.7,517.6 L1231.1,517.5 L1234.4,517.8 L1237.8,518.5 L1241.1,519.3 L1244.5,520.3 L1247.8,521.5 L1251.2,522.4 L1254.5,522.9 L1257.9,522.5 L1261.2,521.4 L1264.6,519.7 L1267.9,517.7 L1271.3,515.4 L1274.6,513.4 L1278.0,511.6 L1281.3,509.8 L1284.7,508.0 L1288.0,506.4 L1291.4,505.3 L1294.7,505.1 L1298.1,505.4 L1301.4,505.9 L1304.8,506.3 L1308.1,506.7 L1311.5,507.0 L1314.8,507.3 L1318.2,507.4 L1321.5,507.5 L1323.0,507.5" fill="none" stroke="#2f9bee" stroke-width="1.4" stroke-linejoin="round"/>
<rect x="5" y="568.75" width="1319.5" height="15" fill="#f4e4fa"/>
<path d="M5,568.75H1324.5 M5,583.75H1324.5" stroke="#c4bccf" stroke-width="1" stroke-dasharray="4.5,5.8" fill="none"/>
<path d="M5,576.25H1324.5" stroke="#d2cbdb" stroke-width="1" stroke-dasharray="4.5,5.8" fill="none"/>
<path d="M5.0,575.0 L12.5,571.0 L20.0,566.0 L30.0,565.0 L40.0,566.0 L45.0,560.0 L50.0,561.0 L57.5,565.0 L65.0,564.0 L72.5,562.5 L77.5,564.0 L82.5,572.5 L89.0,581.0 L94.0,577.5 L100.0,576.0 L105.0,572.5 L110.0,566.0 L115.0,559.0 L119.5,558.0 L122.5,566.0 L130.0,562.5 L137.5,561.0 L142.5,565.0 L146.0,564.0 L152.5,568.0 L157.5,562.5 L164.0,556.0 L170.0,554.0 L175.0,552.5 L179.0,559.0 L185.0,562.5 L190.0,570.0 L195.0,569.5 L200.0,572.0 L207.5,570.5 L215.0,569.5 L222.5,573.0 L227.5,569.0 L232.5,567.5 L237.5,569.5 L242.5,570.0 L246.0,579.0 L251.0,577.0 L255.0,582.0 L260.0,572.5 L265.0,569.0 L270.0,564.5 L275.0,564.0 L280.0,564.5 L284.0,566.0 L287.5,564.5 L291.0,569.0 L296.0,572.0 L300.0,570.5 L305.0,571.0 L310.0,569.0 L315.0,572.5 L320.0,577.5 L325.0,578.0 L330.0,576.0 L336.0,574.5 L341.0,575.0 L346.0,577.5 L352.0,585.0 L357.0,581.0 L362.0,584.0 L367.0,580.0 L373.0,579.0 L377.0,583.0 L384.5,580.0 L392.0,580.0 L398.0,581.0 L403.0,589.0 L408.0,584.0 L413.0,579.5 L418.0,584.0 L422.0,589.0 L427.0,592.0 L431.0,586.0 L437.0,589.5 L443.0,592.5 L449.5,584.0 L453.0,586.0 L458.0,584.0 L463.0,587.0 L468.0,584.5 L474.5,582.0 L479.5,581.0 L484.5,583.0 L488.0,582.5 L492.0,575.0 L497.0,570.0 L501.0,570.0 L506.0,576.0 L511.0,577.5 L514.5,574.5 L518.0,577.5 L524.5,574.0 L531.0,572.0 L534.5,577.5 L541.0,580.0 L544.5,575.5 L548.0,579.0 L553.0,578.0 L556.0,580.0 L558.0,576.0 L563.0,579.5 L567.0,578.0 L573.0,579.0 L578.0,582.5 L583.0,587.5 L588.0,592.0 L593.0,595.0 L598.0,596.0 L602.0,594.5 L606.0,591.0 L609.5,589.5 L614.5,592.0 L621.0,591.0 L626.0,587.5 L629.5,589.0 L633.0,586.0 L638.0,581.0 L642.0,578.0 L644.5,585.0 L648.0,586.0 L654.5,582.5 L659.5,584.0 L664.5,589.0 L668.0,585.0 L674.5,584.5 L678.0,577.5 L682.0,579.0 L687.0,576.0 L691.0,577.5 L696.0,581.0 L704.0,582.5 L709.0,585.0 L713.0,581.0 L718.0,586.0 L723.0,593.0 L729.0,585.0 L735.0,584.5 L739.0,582.5 L743.0,583.0 L748.0,579.0 L753.0,581.0 L758.0,586.0 L763.0,589.5 L768.0,585.5 L773.0,584.5 L778.0,587.5 L784.0,591.0 L789.0,594.0 L794.0,589.0 L799.0,591.0 L804.0,586.0 L809.0,584.0 L813.0,586.0 L816.5,584.5 L821.5,587.5 L828.0,591.0 L833.0,586.0 L836.5,587.5 L840.0,583.0 L843.0,585.0 L848.0,576.0 L854.0,571.0 L859.0,572.5 L864.0,576.0 L868.0,576.0 L870.0,572.0 L875.0,572.5 L879.0,570.5 L884.0,563.0 L890.0,564.0 L895.0,564.0 L901.5,570.5 L906.5,564.0 L911.5,570.5 L918.0,570.5 L920.0,567.0 L924.0,577.5 L929.0,574.5 L934.0,574.0 L940.0,572.5 L946.5,582.5 L950.0,583.0 L954.0,586.0 L959.0,586.0 L964.0,587.5 L969.0,585.0 L974.0,589.0 L980.0,592.0 L984.0,590.5 L988.0,592.5 L994.0,590.5 L1000.0,592.5 L1008.0,594.0 L1011.5,586.0 L1018.0,585.0 L1023.0,579.5 L1028.0,584.0 L1031.5,585.0 L1038.0,587.5 L1043.0,581.0 L1048.0,582.0 L1056.0,584.0 L1061.0,591.0 L1066.0,592.0 L1071.0,589.0 L1076.0,590.0 L1081.0,589.5 L1086.0,586.0 L1091.0,591.0 L1093.5,586.0 L1101.0,589.0 L1107.0,595.0 L1112.0,594.0 L1117.0,595.0 L1122.0,594.0 L1128.5,582.0 L1133.5,581.0 L1137.0,581.0 L1142.0,589.0 L1145.0,587.5 L1148.0,592.5 L1152.0,587.5 L1157.0,581.0 L1161.0,581.0 L1166.0,586.0 L1171.5,594.5 L1175.0,592.0 L1178.5,590.0 L1183.5,584.5 L1187.0,584.0 L1192.0,586.0 L1196.0,583.0 L1198.5,581.0 L1202.0,584.0 L1205.5,584.5 L1210.0,577.5 L1213.5,575.0 L1217.0,577.0 L1221.0,574.5 L1226.0,579.0 L1231.0,579.0 L1236.0,580.0 L1240.0,582.0 L1243.5,582.5 L1247.0,585.0 L1252.0,588.0 L1256.0,582.5 L1258.5,582.0 L1262.0,576.0 L1266.0,575.0 L1270.0,571.0 L1273.5,570.0 L1277.0,567.0 L1280.0,567.5 L1283.0,570.0 L1286.0,569.0 L1290.0,567.0 L1293.5,569.0 L1297.0,572.5 L1300.0,574.0 L1305.0,572.0 L1308.5,571.0 L1312.0,572.5 L1318.5,572.0 L1323.0,572.5" fill="none" stroke="#a23fba" stroke-width="1.5" stroke-linejoin="round"/>
<path d="M5,457.5H1404 M5,545.5H1404 M5,602.5H1404 M1324.5,7V636" stroke="#e3e4e9" stroke-width="1" fill="none"/>
<path d="M1324.5,49.00h5 M1324.5,98.25h5 M1324.5,147.50h5 M1324.5,196.75h5 M1324.5,246.00h5 M1324.5,295.25h5 M1324.5,344.50h5 M1324.5,393.75h5 M1324.5,443.00h5 M1324.5,472.5h5 M1324.5,513.5h5 M1324.5,576.25h5 M88.5,602.5v5 M229,602.5v5 M366.5,602.5v5 M501,602.5v5 M635,602.5v5 M769,602.5v5 M903.5,602.5v5 M1044,602.5v5 M1191.5,602.5v5" stroke="#e3e4e9" stroke-width="1" fill="none"/>
<g transform="translate(259.5,440.5)"><circle r="12.3" fill="#fff" stroke="#3d6be3" stroke-width="2.1"/><text x="0" y="6.1" text-anchor="middle" font-size="13.5" font-weight="700" fill="#3d6be3">D</text></g>
<g transform="translate(1097.5,440.5)"><circle r="12.3" fill="#fff" stroke="#3d6be3" stroke-width="2.1"/><text x="0" y="6.1" text-anchor="middle" font-size="13.5" font-weight="700" fill="#3d6be3">D</text></g>
<g transform="translate(330.2,440.5)"><path d="M-10.8,-9.8 V5.6 L0,12.1 L10.8,5.6 V-9.8 a2,2 0 0 0 -2,-2 H-8.8 a2,2 0 0 0 -2,2 Z" fill="#fff" stroke="#e8524a" stroke-width="1.9" stroke-linejoin="round"/><text x="0" y="6.1" text-anchor="middle" font-size="13.5" font-weight="700" fill="#e8524a">E</text></g>
<g transform="translate(718.5,440.5)"><path d="M-10.8,-9.8 V5.6 L0,12.1 L10.8,5.6 V-9.8 a2,2 0 0 0 -2,-2 H-8.8 a2,2 0 0 0 -2,2 Z" fill="#fff" stroke="#e8524a" stroke-width="1.9" stroke-linejoin="round"/><text x="0" y="6.1" text-anchor="middle" font-size="13.5" font-weight="700" fill="#e8524a">E</text></g>
<g transform="translate(943.5,440.5)"><path d="M-10.8,-9.8 V5.6 L0,12.1 L10.8,5.6 V-9.8 a2,2 0 0 0 -2,-2 H-8.8 a2,2 0 0 0 -2,2 Z" fill="#fff" stroke="#e8524a" stroke-width="1.9" stroke-linejoin="round"/><text x="0" y="6.1" text-anchor="middle" font-size="13.5" font-weight="700" fill="#e8524a">E</text></g>
<g transform="translate(518.1,440.5)"><path d="M-10.8,9 V-5.3 L0,-11.6 L10.8,-5.3 V9 a2,2 0 0 1 -2,2 H-8.8 a2,2 0 0 1 -2,-2 Z" fill="#fff" stroke="#24978a" stroke-width="1.9" stroke-linejoin="round"/><text x="0" y="6.1" text-anchor="middle" font-size="13.5" font-weight="700" fill="#24978a">E</text></g>
<g transform="translate(1141.7,440.5)"><path d="M-10.8,9 V-5.3 L0,-11.6 L10.8,-5.3 V9 a2,2 0 0 1 -2,2 H-8.8 a2,2 0 0 1 -2,-2 Z" fill="#fff" stroke="#24978a" stroke-width="1.9" stroke-linejoin="round"/><text x="0" y="6.1" text-anchor="middle" font-size="13.5" font-weight="700" fill="#24978a">E</text></g>
<text x="1336.5" y="54.2" font-size="14.5" fill="#4d4e56">440.00</text>
<text x="1336.5" y="103.5" font-size="14.5" fill="#4d4e56">400.00</text>
<text x="1336.5" y="152.7" font-size="14.5" fill="#4d4e56">360.00</text>
<text x="1336.5" y="201.9" font-size="14.5" fill="#4d4e56">320.00</text>
<text x="1336.5" y="251.2" font-size="14.5" fill="#4d4e56">280.00</text>
<text x="1336.5" y="300.4" font-size="14.5" fill="#4d4e56">240.00</text>
<text x="1336.5" y="398.9" font-size="14.5" fill="#4d4e56">160.00</text>
<text x="1336.5" y="448.2" font-size="14.5" fill="#4d4e56">120.00</text>
<text x="1336.5" y="478.2" font-size="14.5" fill="#4d4e56">25.00</text>
<text x="1336.5" y="519.2" font-size="14.5" fill="#4d4e56">0.00</text>
<text x="1336.5" y="581.4" font-size="14.5" fill="#4d4e56">50.00</text>
<path d="M1324,330H1388a2,2 0 0 1 2,2V349a2,2 0 0 1-2,2H1324Z" fill="#ef5350"/>
<path d="M1324,340.5h5" stroke="#fff" stroke-width="1"/>
<text x="1336.5" y="345.7" font-size="14.5" font-weight="700" fill="#fff" textLength="45.5" lengthAdjust="spacingAndGlyphs">203.65</text>
<rect x="1347.5" y="14.5" width="33" height="23" rx="4" fill="#fff" stroke="#e0e3eb"/>
<text x="1364" y="30.7" font-size="13" text-anchor="middle" fill="#4d4e56">INR</text>
<text x="88.5" y="625" font-size="14" text-anchor="middle" fill="#4d4e56">May</text>
<text x="229" y="625" font-size="14" text-anchor="middle" fill="#4d4e56">Jul</text>
<text x="366.5" y="625" font-size="14" text-anchor="middle" fill="#4d4e56">Sep</text>
<text x="501" y="625" font-size="14" text-anchor="middle" fill="#4d4e56">Nov</text>
<text x="635" y="625" font-size="14" text-anchor="middle" fill="#4d4e56" font-weight="700">2015</text>
<text x="769" y="625" font-size="14" text-anchor="middle" fill="#4d4e56">Mar</text>
<text x="903.5" y="625" font-size="14" text-anchor="middle" fill="#4d4e56">May</text>
<text x="1044" y="625" font-size="14" text-anchor="middle" fill="#4d4e56">Jul</text>
<text x="1191.5" y="625" font-size="14" text-anchor="middle" fill="#4d4e56">Sep</text>
<text x="15.5" y="32.7" font-size="15.6" fill="#111" stroke="#111" stroke-width="0.55" textLength="179.5" lengthAdjust="spacingAndGlyphs">TATA STEEL LTD, 1D, NSE</text>
<text x="15.5" y="54" font-size="15" fill="#111" textLength="23" lengthAdjust="spacingAndGlyphs">Vol</text>
<text x="15.5" y="75.5" font-size="15" fill="#111" textLength="131.5" lengthAdjust="spacingAndGlyphs">BB (20, close, 2, 0)</text>
<text x="15.5" y="483.8" font-size="15" fill="#111" textLength="168" lengthAdjust="spacingAndGlyphs">MACD (12, 26, close, 9)</text>
<text x="15.5" y="572.2" font-size="15" fill="#111" textLength="100.5" lengthAdjust="spacingAndGlyphs">RSI (14, close)</text>
<path d="M5,637V6.5" stroke="#555" stroke-width="1.5" fill="none"/>
<path d="M4.3,6.5H1405" stroke="#4a4a4a" stroke-width="1.1" fill="none"/>
<path d="M1404.3,6V637.6" stroke="#4a4a4a" stroke-width="1.7" fill="none"/>
<path d="M4.3,636.8H1405.1" stroke="#4a4a4a" stroke-width="1.7" fill="none"/>
</svg>
</body></html>
